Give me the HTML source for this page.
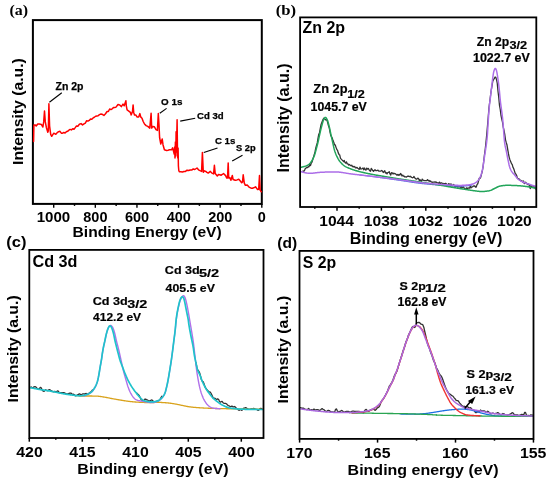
<!DOCTYPE html>
<html><head><meta charset="utf-8"><style>
html,body{margin:0;padding:0;background:#fff;width:550px;height:484px;overflow:hidden}
svg{display:block;will-change:transform;filter:blur(0.3px)}
text{font-weight:bold}
</style></head><body>
<svg width="550" height="484" viewBox="0 0 550 484">
<rect width="550" height="484" fill="#fff"/>
<rect x="32.90" y="20.10" width="228.90" height="183.80" fill="none" stroke="#000" stroke-width="2.0"/>
<line x1="261.80" y1="203.90" x2="261.80" y2="207.80" stroke="#000" stroke-width="1.4"/>
<line x1="240.99" y1="203.90" x2="240.99" y2="205.90" stroke="#000" stroke-width="1.4"/>
<line x1="220.18" y1="203.90" x2="220.18" y2="207.80" stroke="#000" stroke-width="1.4"/>
<line x1="199.37" y1="203.90" x2="199.37" y2="205.90" stroke="#000" stroke-width="1.4"/>
<line x1="178.56" y1="203.90" x2="178.56" y2="207.80" stroke="#000" stroke-width="1.4"/>
<line x1="157.75" y1="203.90" x2="157.75" y2="205.90" stroke="#000" stroke-width="1.4"/>
<line x1="136.95" y1="203.90" x2="136.95" y2="207.80" stroke="#000" stroke-width="1.4"/>
<line x1="116.14" y1="203.90" x2="116.14" y2="205.90" stroke="#000" stroke-width="1.4"/>
<line x1="95.33" y1="203.90" x2="95.33" y2="207.80" stroke="#000" stroke-width="1.4"/>
<line x1="74.52" y1="203.90" x2="74.52" y2="205.90" stroke="#000" stroke-width="1.4"/>
<line x1="53.71" y1="203.90" x2="53.71" y2="207.80" stroke="#000" stroke-width="1.4"/>
<text x="36.65" y="222.40" font-size="14.5" font-family="Liberation Sans, sans-serif" textLength="33.58" lengthAdjust="spacingAndGlyphs" fill="#000" >1000</text>
<text x="83.30" y="222.40" font-size="14.5" font-family="Liberation Sans, sans-serif" textLength="24.19" lengthAdjust="spacingAndGlyphs" fill="#000" >800</text>
<text x="124.88" y="222.40" font-size="14.5" font-family="Liberation Sans, sans-serif" textLength="24.19" lengthAdjust="spacingAndGlyphs" fill="#000" >600</text>
<text x="166.66" y="222.40" font-size="14.5" font-family="Liberation Sans, sans-serif" textLength="24.19" lengthAdjust="spacingAndGlyphs" fill="#000" >400</text>
<text x="208.13" y="222.40" font-size="14.5" font-family="Liberation Sans, sans-serif" textLength="24.19" lengthAdjust="spacingAndGlyphs" fill="#000" >200</text>
<text x="257.78" y="222.40" font-size="14.5" font-family="Liberation Sans, sans-serif" textLength="8.06" lengthAdjust="spacingAndGlyphs" fill="#000" >0</text>
<text x="72.55" y="236.80" font-size="14.8" font-family="Liberation Sans, sans-serif" textLength="149.13" lengthAdjust="spacingAndGlyphs" fill="#000" >Binding Energy (eV)</text>
<text x="0" y="0" transform="translate(23.30,164.96) rotate(-90)" font-size="15.5" font-family="Liberation Sans, sans-serif" textLength="106.75" lengthAdjust="spacingAndGlyphs">Intensity (a.u.)</text>
<text x="9.50" y="15.00" font-size="15" font-family="Liberation Serif, serif" textLength="18.60" lengthAdjust="spacingAndGlyphs" fill="#000" >(a)</text>
<path d="M33.60,141.50 L33.90,125.00 L35.05,124.90 L36.20,126.00 L37.75,124.01 L39.30,124.00 L41.40,124.50 L42.90,127.00 L43.70,121.90 L44.50,111.00 L45.30,121.90 L46.50,128.00 L47.80,132.20 L48.30,131.00 L48.90,103.80 L49.60,126.00 L50.70,134.30 L51.70,136.30 L53.80,133.20 L55.80,134.30 L56.90,132.96 L58.00,132.00 L60.00,131.30 L61.30,133.20 L62.55,133.17 L63.80,132.50 L65.07,132.95 L66.33,131.78 L67.60,131.30 L68.88,130.24 L70.15,129.41 L71.42,129.91 L72.70,128.70 L73.97,129.30 L75.25,127.65 L76.53,125.90 L77.80,126.20 L79.40,124.18 L81.00,123.60 L82.50,124.90 L84.00,123.80 L85.33,123.05 L86.67,120.70 L88.00,121.10 L89.27,120.40 L90.53,118.96 L91.80,119.20 L93.08,117.93 L94.35,117.23 L95.62,116.27 L96.90,116.00 L98.17,115.78 L99.43,114.69 L100.70,114.10 L102.30,114.31 L103.90,115.40 L105.50,113.76 L107.10,111.50 L108.37,111.49 L109.63,109.00 L110.90,109.60 L112.18,108.78 L113.45,107.61 L114.72,107.60 L116.00,107.10 L118.00,104.50 L119.70,104.90 L121.30,106.60 L123.00,104.10 L124.20,105.80 L125.90,100.80 L126.30,105.80 L127.10,109.90 L128.80,111.10 L130.40,112.40 L131.20,114.90 L132.50,111.50 L133.10,104.90 L133.70,112.40 L134.50,114.90 L135.75,114.93 L137.00,116.90 L138.70,116.90 L139.90,113.60 L140.70,116.90 L142.00,118.20 L143.20,121.50 L144.50,124.00 L146.10,125.60 L147.80,126.40 L149.80,128.10 L151.10,113.20 L151.70,128.10 L152.70,126.40 L154.40,126.80 L156.00,129.70 L157.40,130.40 L158.30,113.60 L159.00,124.50 L159.60,137.50 L160.80,144.00 L162.20,138.90 L163.00,144.70 L164.40,149.80 L166.60,150.50 L168.05,150.17 L169.50,149.80 L171.60,149.80 L172.60,147.90 L173.80,152.30 L174.20,154.00 L174.60,147.00 L175.00,158.00 L175.40,142.00 L175.80,156.00 L176.10,131.70 L176.40,152.00 L176.80,135.00 L177.10,119.80 L177.50,152.00 L177.80,158.00 L178.10,148.00 L178.40,166.00 L178.80,170.50 L179.30,171.70 L180.85,171.82 L182.40,172.00 L183.95,171.47 L185.50,171.40 L187.05,170.16 L188.60,170.50 L190.15,170.00 L191.70,170.10 L193.25,168.98 L194.80,169.50 L197.00,168.00 L198.50,169.80 L200.00,170.60 L201.60,171.40 L202.40,152.40 L203.30,172.30 L204.50,170.83 L205.70,171.40 L206.95,172.42 L208.20,173.10 L210.30,171.40 L211.90,173.10 L213.60,173.90 L214.40,165.20 L215.20,173.50 L217.30,176.00 L218.55,174.57 L219.80,174.80 L221.03,175.24 L222.27,174.47 L223.50,173.50 L225.60,175.60 L226.80,178.10 L227.50,178.00 L228.20,162.90 L228.70,178.10 L229.80,177.65 L230.90,180.20 L232.30,175.50 L233.10,179.50 L235.20,180.20 L237.00,179.90 L238.80,179.20 L240.30,181.00 L241.70,182.80 L242.50,182.00 L243.20,174.80 L244.30,183.10 L245.40,185.30 L247.20,185.00 L249.00,187.10 L251.10,188.20 L252.40,188.20 L253.70,187.80 L255.50,186.80 L257.60,189.60 L258.70,189.30 L259.50,175.50 L260.20,190.40 L261.30,191.80" fill="none" stroke="#ff0000" stroke-width="1.5" stroke-linejoin="round" stroke-linecap="round" />
<text x="55.59" y="90.00" font-size="10.3" font-family="Liberation Sans, sans-serif" textLength="27.94" lengthAdjust="spacingAndGlyphs" fill="#000" stroke="#000" stroke-width="0.25">Zn 2p</text>
<line x1="61.80" y1="92.70" x2="49.40" y2="102.30" stroke="#000" stroke-width="1.1"/>
<text x="161.10" y="104.50" font-size="9.8" font-family="Liberation Sans, sans-serif" textLength="21.31" lengthAdjust="spacingAndGlyphs" fill="#000" stroke="#000" stroke-width="0.25">O 1s</text>
<line x1="166.60" y1="108.40" x2="159.80" y2="113.20" stroke="#000" stroke-width="1.1"/>
<text x="197.11" y="119.10" font-size="9.7" font-family="Liberation Sans, sans-serif" textLength="26.62" lengthAdjust="spacingAndGlyphs" fill="#000" stroke="#000" stroke-width="0.25">Cd 3d</text>
<line x1="195.20" y1="118.20" x2="180.20" y2="121.10" stroke="#000" stroke-width="1.1"/>
<text x="214.90" y="143.80" font-size="9.6" font-family="Liberation Sans, sans-serif" textLength="20.39" lengthAdjust="spacingAndGlyphs" fill="#000" stroke="#000" stroke-width="0.25">C 1s</text>
<line x1="217.50" y1="148.00" x2="203.80" y2="152.40" stroke="#000" stroke-width="1.1"/>
<text x="236.03" y="151.40" font-size="9.2" font-family="Liberation Sans, sans-serif" textLength="19.55" lengthAdjust="spacingAndGlyphs" fill="#000" stroke="#000" stroke-width="0.25">S 2p</text>
<line x1="242.50" y1="155.30" x2="232.20" y2="161.10" stroke="#000" stroke-width="1.1"/>
<clipPath id="cb"><rect x="300.1" y="17.4" width="236.19999999999993" height="189.6"/></clipPath>
<path d="M303.00,171.03 L303.75,171.32 L304.50,170.55 L305.25,168.61 L306.00,168.15 L306.75,167.39 L307.50,167.68 L308.25,166.74 L309.00,166.76 L309.75,164.02 L310.50,165.57 L311.25,163.08 L312.00,162.06 L312.75,159.50 L313.50,157.07 L314.25,154.81 L315.00,151.93 L315.75,148.20 L316.50,145.32 L317.25,142.88 L318.00,138.35 L318.75,134.46 L319.50,132.63 L320.25,128.65 L321.00,124.80 L321.75,122.75 L322.50,120.83 L323.25,119.07 L324.00,118.02 L324.75,119.06 L325.50,119.93 L326.25,119.66 L327.00,120.40 L327.75,122.88 L328.50,125.74 L329.25,127.86 L330.00,131.83 L330.75,135.43 L331.50,136.76 L332.25,138.09 L333.00,140.60 L333.75,142.30 L334.50,144.79 L335.25,144.90 L336.00,147.37 L336.75,149.32 L337.50,150.27 L338.25,152.87 L339.00,154.40 L339.75,155.07 L340.50,158.34 L341.25,159.11 L342.00,159.88 L342.75,160.49 L343.50,161.61 L344.25,160.54 L345.00,162.60 L345.75,163.15 L346.50,161.87 L347.25,163.91 L348.00,163.88 L348.75,165.06 L349.50,164.53 L350.25,165.21 L351.00,165.82 L351.75,165.23 L352.50,166.63 L353.25,166.37 L354.00,167.06 L354.75,166.53 L355.50,167.96 L356.25,167.80 L357.00,167.41 L357.75,168.21 L358.50,168.85 L359.25,169.42 L360.00,167.05 L360.75,169.04 L361.50,168.86 L362.25,168.57 L363.00,168.01 L363.75,169.82 L364.50,168.03 L365.25,169.50 L366.00,170.15 L366.75,168.06 L367.50,169.12 L368.25,168.45 L369.00,169.70 L369.75,170.75 L370.50,171.22 L371.25,168.46 L372.00,169.47 L372.75,170.53 L373.50,171.29 L374.25,170.53 L375.00,169.76 L375.75,170.65 L376.50,170.53 L377.25,170.50 L378.00,170.21 L378.75,171.17 L379.50,171.22 L380.25,171.04 L381.00,171.07 L381.75,170.39 L382.50,171.12 L383.25,172.52 L384.00,171.60 L384.75,170.80 L385.50,173.03 L386.25,172.57 L387.00,173.90 L387.75,172.51 L388.50,172.27 L389.25,171.69 L390.00,173.92 L390.75,175.01 L391.50,172.62 L392.25,172.91 L393.00,174.00 L393.75,173.09 L394.50,173.66 L395.25,173.76 L396.00,174.32 L396.75,175.15 L397.50,174.50 L398.25,175.32 L399.00,174.47 L399.75,175.18 L400.50,173.48 L401.25,174.15 L402.00,175.98 L402.75,175.10 L403.50,176.13 L404.25,176.25 L405.00,176.99 L405.75,176.77 L406.50,177.08 L407.25,176.39 L408.00,176.11 L408.75,176.24 L409.50,176.59 L410.25,176.27 L411.00,176.87 L411.75,177.37 L412.50,177.79 L413.25,177.51 L414.00,176.48 L414.75,178.03 L415.50,178.42 L416.25,179.22 L417.00,179.00 L417.75,178.25 L418.50,178.34 L419.25,180.55 L420.00,179.77 L420.75,180.73 L421.50,181.11 L422.25,179.05 L423.00,180.11 L423.75,180.32 L424.50,180.55 L425.25,180.69 L426.00,180.58 L426.75,180.72 L427.50,179.61 L428.25,180.77 L429.00,180.48 L429.75,181.29 L430.50,180.99 L431.25,181.96 L432.00,182.26 L432.75,182.02 L433.50,182.18 L434.25,182.16 L435.00,181.90 L435.75,182.26 L436.50,182.16 L437.25,182.96 L438.00,182.83 L438.75,183.40 L439.50,182.11 L440.25,183.91 L441.00,182.81 L441.75,182.97 L442.50,183.51 L443.25,183.37 L444.00,184.14 L444.75,183.62 L445.50,183.38 L446.25,183.67 L447.00,185.42 L447.75,184.59 L448.50,183.81 L449.25,184.82 L450.00,183.77 L450.75,186.41 L451.50,184.05 L452.25,185.68 L453.00,185.86 L453.75,184.50 L454.50,185.95 L455.25,186.61 L456.00,186.35 L456.75,186.34 L457.50,187.00 L458.25,186.56 L459.00,186.84 L459.75,186.65 L460.50,187.39 L461.25,186.39 L462.00,187.88 L462.75,187.09 L463.50,186.82 L464.25,188.09 L465.00,189.26 L465.75,188.87 L466.50,187.87 L467.25,188.82 L468.00,187.94 L468.75,188.12 L469.50,188.17 L470.25,186.23 L471.00,187.96 L471.75,186.87 L472.50,186.95 L473.25,186.16 L474.00,185.86 L474.75,186.00 L475.50,187.01 L476.25,187.12 L477.00,184.63 L477.75,183.77 L478.50,180.96 L479.25,178.21 L480.00,178.44 L480.75,177.14 L481.50,174.21 L482.25,171.26 L483.00,167.23 L483.75,160.85 L484.50,154.50 L485.25,149.02 L486.00,142.08 L486.75,134.29 L487.50,125.85 L488.25,116.84 L489.00,107.63 L489.75,101.78 L490.50,95.77 L491.25,90.08 L492.00,85.97 L492.75,81.28 L493.50,79.68 L494.25,78.72 L495.00,77.12 L495.75,77.06 L496.50,79.67 L497.25,83.15 L498.00,91.29 L498.75,97.44 L499.50,105.45 L500.25,109.33 L501.00,115.48 L501.75,119.19 L502.50,122.08 L503.25,127.20 L504.00,130.49 L504.75,134.41 L505.50,139.79 L506.25,142.66 L507.00,145.04 L507.75,149.54 L508.50,153.93 L509.25,157.59 L510.00,159.92 L510.75,161.76 L511.50,163.63 L512.25,164.61 L513.00,167.38 L513.75,168.73 L514.50,171.14 L515.25,173.55 L516.00,174.25 L516.75,175.86 L517.50,178.59 L518.25,178.60 L519.00,178.91 L519.75,180.05 L520.50,180.03 L521.25,181.12 L522.00,180.88 L522.75,182.02 L523.50,181.04 L524.25,183.63 L525.00,182.64 L525.75,182.21 L526.50,183.58 L527.25,183.84 L528.00,184.61 L528.75,184.05 L529.50,185.64 L530.25,188.50 L531.00,185.27 L531.75,186.92 L532.50,186.85 L533.25,187.62 L534.00,186.48 L534.75,187.31 L535.50,188.84" fill="none" stroke="#333333" stroke-width="1.3" stroke-linejoin="round" stroke-linecap="round" clip-path="url(#cb)"/>
<path d="M360.00,174.98 L360.50,175.03 L361.00,175.09 L361.50,175.15 L362.00,175.21 L362.50,175.26 L363.00,175.32 L363.50,175.38 L364.00,175.43 L364.50,175.49 L365.00,175.55 L365.50,175.61 L366.00,175.66 L366.50,175.72 L367.00,175.78 L367.50,175.84 L368.00,175.89 L368.50,175.95 L369.00,176.01 L369.50,176.07 L370.00,176.13 L370.50,176.20 L371.00,176.27 L371.50,176.33 L372.00,176.40 L372.50,176.47 L373.00,176.54 L373.50,176.61 L374.00,176.68 L374.50,176.75 L375.00,176.82 L375.50,176.89 L376.00,176.96 L376.50,177.03 L377.00,177.10 L377.50,177.17 L378.00,177.24 L378.50,177.31 L379.00,177.38 L379.50,177.45 L380.00,177.52 L380.50,177.60 L381.00,177.67 L381.50,177.74 L382.00,177.81 L382.50,177.88 L383.00,177.95 L383.50,178.02 L384.00,178.09 L384.50,178.16 L385.00,178.23 L385.50,178.30 L386.00,178.37 L386.50,178.45 L387.00,178.52 L387.50,178.59 L388.00,178.66 L388.50,178.73 L389.00,178.80 L389.50,178.87 L390.00,178.95 L390.50,179.02 L391.00,179.09 L391.50,179.16 L392.00,179.23 L392.50,179.31 L393.00,179.38 L393.50,179.45 L394.00,179.52 L394.50,179.60 L395.00,179.67 L395.50,179.74 L396.00,179.81 L396.50,179.89 L397.00,179.96 L397.50,180.03 L398.00,180.11 L398.50,180.18 L399.00,180.25 L399.50,180.33 L400.00,180.40 L400.50,180.47 L401.00,180.55 L401.50,180.62 L402.00,180.70 L402.50,180.78 L403.00,180.86 L403.50,180.93 L404.00,181.01 L404.50,181.09 L405.00,181.17 L405.50,181.25 L406.00,181.33 L406.50,181.42 L407.00,181.50 L407.50,181.58 L408.00,181.66 L408.50,181.74 L409.00,181.82 L409.50,181.91 L410.00,181.99 L410.50,182.06 L411.00,182.13 L411.50,182.20 L412.00,182.28 L412.50,182.35 L413.00,182.42 L413.50,182.49 L414.00,182.56 L414.50,182.63 L415.00,182.70 L415.50,182.77 L416.00,182.83 L416.50,182.90 L417.00,182.97 L417.50,183.03 L418.00,183.10 L418.50,183.16 L419.00,183.23 L419.50,183.29 L420.00,183.35 L420.50,183.41 L421.00,183.47 L421.50,183.53 L422.00,183.59 L422.50,183.64 L423.00,183.70 L423.50,183.75 L424.00,183.80 L424.50,183.85 L425.00,183.90 L425.50,183.95 L426.00,184.00 L426.50,184.04 L427.00,184.09 L427.50,184.14 L428.00,184.18 L428.50,184.23 L429.00,184.28 L429.50,184.32 L430.00,184.37 L430.50,184.41 L431.00,184.46 L431.50,184.50 L432.00,184.54 L432.50,184.59 L433.00,184.63 L433.50,184.67 L434.00,184.71 L434.50,184.75 L435.00,184.80 L435.50,184.84 L436.00,184.88 L436.50,184.92 L437.00,184.96 L437.50,184.99 L438.00,185.03 L438.50,185.07 L439.00,185.11 L439.50,185.15 L440.00,185.18 L440.50,185.22 L441.00,185.25 L441.50,185.29 L442.00,185.32 L442.50,185.36 L443.00,185.39 L443.50,185.42 L444.00,185.46 L444.50,185.49 L445.00,185.52 L445.50,185.55 L446.00,185.58 L446.50,185.61 L447.00,185.64 L447.50,185.67 L448.00,185.69 L448.50,185.72 L449.00,185.75 L449.50,185.77 L450.00,185.80 L450.50,185.83 L451.00,185.85 L451.50,185.88 L452.00,185.91 L452.50,185.93 L453.00,185.96 L453.50,185.99 L454.00,186.01 L454.50,186.04 L455.00,186.06 L455.50,186.09 L456.00,186.11 L456.50,186.13 L457.00,186.15 L457.50,186.16 L458.00,186.17 L458.50,186.19 L459.00,186.19 L459.50,186.20 L460.00,186.20 L460.50,186.20 L461.00,186.19 L461.50,186.18 L462.00,186.16 L462.50,186.14 L463.00,186.12 L463.50,186.09 L464.00,186.06 L464.50,186.02 L465.00,185.99 L465.50,185.95 L466.00,185.91 L466.50,185.87 L467.00,185.83 L467.50,185.78 L468.00,185.73 L468.50,185.67 L469.00,185.60 L469.50,185.53 L470.00,185.44 L470.50,185.35 L471.00,185.24 L471.50,185.13 L472.00,185.01" fill="none" stroke="#5a72e0" stroke-width="1.1" stroke-linejoin="round" stroke-linecap="round" clip-path="url(#cb)"/>
<path d="M300.00,167.30 L300.50,167.27 L301.00,167.22 L301.50,167.15 L302.00,167.06 L302.50,166.96 L303.00,166.84 L303.50,166.72 L304.00,166.58 L304.50,166.44 L305.00,166.30 L305.50,166.14 L306.00,165.96 L306.50,165.75 L307.00,165.52 L307.50,165.25 L308.00,164.96 L308.50,164.64 L309.00,164.27 L309.50,163.81 L310.00,163.26 L310.50,162.65 L311.00,161.97 L311.50,161.25 L312.00,160.49 L312.50,159.66 L313.00,158.73 L313.50,157.70 L314.00,156.55 L314.50,155.25 L315.00,153.65 L315.50,151.84 L316.00,149.97 L316.50,148.12 L317.00,146.23 L317.50,144.26 L318.00,142.20 L318.50,139.99 L319.00,137.64 L319.50,135.29 L320.00,133.07 L320.50,130.91 L321.00,128.82 L321.50,126.84 L322.00,124.99 L322.50,123.13 L323.00,121.44 L323.50,120.11 L324.00,119.11 L324.50,118.21 L325.00,117.58 L325.50,117.41 L326.00,117.74 L326.50,118.43 L327.00,119.33 L327.50,120.34 L328.00,121.83 L328.50,123.70 L329.00,125.70 L329.50,127.77 L330.00,130.06 L330.50,132.45 L331.00,134.80 L331.50,137.09 L332.00,139.38 L332.50,141.64 L333.00,143.84 L333.50,146.08 L334.00,148.28 L334.50,150.23 L335.00,151.82 L335.50,153.23 L336.00,154.50 L336.50,155.65 L337.00,156.70 L337.50,157.67 L338.00,158.59 L338.50,159.44 L339.00,160.24 L339.50,160.97 L340.00,161.63 L340.50,162.23 L341.00,162.80 L341.50,163.34 L342.00,163.86 L342.50,164.34 L343.00,164.80 L343.50,165.22 L344.00,165.62 L344.50,165.98 L345.00,166.30 L345.50,166.60 L346.00,166.87 L346.50,167.12 L347.00,167.36 L347.50,167.59 L348.00,167.80 L348.50,168.01 L349.00,168.21 L349.50,168.40 L350.00,168.60 L350.50,168.80 L351.00,168.99 L351.50,169.17 L352.00,169.36 L352.50,169.54 L353.00,169.71 L353.50,169.88 L354.00,170.05 L354.50,170.21 L355.00,170.36 L355.50,170.51 L356.00,170.66 L356.50,170.80 L357.00,170.94 L357.50,171.08 L358.00,171.22 L358.50,171.35 L359.00,171.48 L359.50,171.61 L360.00,171.74 L360.50,171.86 L361.00,171.99 L361.50,172.11 L362.00,172.23 L362.50,172.35 L363.00,172.46 L363.50,172.58 L364.00,172.69 L364.50,172.81 L365.00,172.92 L365.50,173.03 L366.00,173.13 L366.50,173.24 L367.00,173.35 L367.50,173.45 L368.00,173.56 L368.50,173.66 L369.00,173.76 L369.50,173.86 L370.00,173.96 L370.50,174.06 L371.00,174.16 L371.50,174.25 L372.00,174.35 L372.50,174.44 L373.00,174.53 L373.50,174.63 L374.00,174.72 L374.50,174.81 L375.00,174.89 L375.50,174.98 L376.00,175.07 L376.50,175.16 L377.00,175.24 L377.50,175.33 L378.00,175.42 L378.50,175.50 L379.00,175.59 L379.50,175.67 L380.00,175.76 L380.50,175.84 L381.00,175.93 L381.50,176.01 L382.00,176.10 L382.50,176.18 L383.00,176.27 L383.50,176.35 L384.00,176.44 L384.50,176.52 L385.00,176.61 L385.50,176.69 L386.00,176.78 L386.50,176.86 L387.00,176.94 L387.50,177.03 L388.00,177.11 L388.50,177.19 L389.00,177.27 L389.50,177.35 L390.00,177.44 L390.50,177.52 L391.00,177.60 L391.50,177.68 L392.00,177.76 L392.50,177.84 L393.00,177.92 L393.50,178.00 L394.00,178.08 L394.50,178.16 L395.00,178.24 L395.50,178.32 L396.00,178.40 L396.50,178.48 L397.00,178.56 L397.50,178.63 L398.00,178.71 L398.50,178.79 L399.00,178.87 L399.50,178.95 L400.00,179.02 L400.50,179.10 L401.00,179.18 L401.50,179.25 L402.00,179.33 L402.50,179.41 L403.00,179.48 L403.50,179.56 L404.00,179.63 L404.50,179.70 L405.00,179.78 L405.50,179.85 L406.00,179.93 L406.50,180.00 L407.00,180.07 L407.50,180.15 L408.00,180.22 L408.50,180.29 L409.00,180.37 L409.50,180.44 L410.00,180.51 L410.50,180.59 L411.00,180.66 L411.50,180.73 L412.00,180.80 L412.50,180.88 L413.00,180.95 L413.50,181.02 L414.00,181.10 L414.50,181.17 L415.00,181.25 L415.50,181.32 L416.00,181.39 L416.50,181.47 L417.00,181.54 L417.50,181.62 L418.00,181.69 L418.50,181.77 L419.00,181.85 L419.50,181.92 L420.00,182.00 L420.50,182.08 L421.00,182.15 L421.50,182.23 L422.00,182.31 L422.50,182.39 L423.00,182.47 L423.50,182.54 L424.00,182.62 L424.50,182.70 L425.00,182.78 L425.50,182.86 L426.00,182.94 L426.50,183.02 L427.00,183.10 L427.50,183.17 L428.00,183.25 L428.50,183.33 L429.00,183.41 L429.50,183.49 L430.00,183.57 L430.50,183.65 L431.00,183.73 L431.50,183.81 L432.00,183.90 L432.50,183.98 L433.00,184.06 L433.50,184.14 L434.00,184.22 L434.50,184.30 L435.00,184.38 L435.50,184.46 L436.00,184.54 L436.50,184.63 L437.00,184.71 L437.50,184.79 L438.00,184.87 L438.50,184.95 L439.00,185.04 L439.50,185.12 L440.00,185.20 L440.50,185.28 L441.00,185.37 L441.50,185.45 L442.00,185.53 L442.50,185.62 L443.00,185.70 L443.50,185.79 L444.00,185.87 L444.50,185.96 L445.00,186.05 L445.50,186.13 L446.00,186.22 L446.50,186.31 L447.00,186.39 L447.50,186.48 L448.00,186.57 L448.50,186.65 L449.00,186.74 L449.50,186.83 L450.00,186.92 L450.50,187.00 L451.00,187.09 L451.50,187.18 L452.00,187.26 L452.50,187.35 L453.00,187.44 L453.50,187.52 L454.00,187.61 L454.50,187.69 L455.00,187.78 L455.50,187.86 L456.00,187.95 L456.50,188.03 L457.00,188.11 L457.50,188.20 L458.00,188.28 L458.50,188.36 L459.00,188.44 L459.50,188.52 L460.00,188.60 L460.50,188.68 L461.00,188.76 L461.50,188.83 L462.00,188.91 L462.50,188.98 L463.00,189.06 L463.50,189.13 L464.00,189.21 L464.50,189.28 L465.00,189.36 L465.50,189.43 L466.00,189.50 L466.50,189.58 L467.00,189.65 L467.50,189.73 L468.00,189.81 L468.50,189.89 L469.00,189.97 L469.50,190.05 L470.00,190.13 L470.50,190.22 L471.00,190.30 L471.50,190.38 L472.00,190.45 L472.50,190.53 L473.00,190.60 L473.50,190.67 L474.00,190.74 L474.50,190.80 L475.00,190.86 L475.50,190.92 L476.00,190.99 L476.50,191.05 L477.00,191.12 L477.50,191.18 L478.00,191.24 L478.50,191.30 L479.00,191.35 L479.50,191.39 L480.00,191.43 L480.50,191.46 L481.00,191.49 L481.50,191.50 L482.00,191.50 L482.50,191.49 L483.00,191.48 L483.50,191.45 L484.00,191.42 L484.50,191.38 L485.00,191.34 L485.50,191.29 L486.00,191.24 L486.50,191.18 L487.00,191.11 L487.50,191.04 L488.00,190.97 L488.50,190.89 L489.00,190.82 L489.50,190.72 L490.00,190.59 L490.50,190.41 L491.00,190.21 L491.50,189.99 L492.00,189.75 L492.50,189.49 L493.00,189.23 L493.50,188.97 L494.00,188.72 L494.50,188.48 L495.00,188.26 L495.50,188.03 L496.00,187.78 L496.50,187.52 L497.00,187.27 L497.50,187.02 L498.00,186.78 L498.50,186.56 L499.00,186.37 L499.50,186.21 L500.00,186.10 L500.50,186.01 L501.00,185.92 L501.50,185.84 L502.00,185.76 L502.50,185.68 L503.00,185.61 L503.50,185.55 L504.00,185.49 L504.50,185.44 L505.00,185.39 L505.50,185.36 L506.00,185.33 L506.50,185.31 L507.00,185.30 L507.50,185.30 L508.00,185.30 L508.50,185.31 L509.00,185.31 L509.50,185.32 L510.00,185.33 L510.50,185.35 L511.00,185.36 L511.50,185.38 L512.00,185.39 L512.50,185.41 L513.00,185.43 L513.50,185.45 L514.00,185.47 L514.50,185.50 L515.00,185.52 L515.50,185.55 L516.00,185.57 L516.50,185.60 L517.00,185.62 L517.50,185.65 L518.00,185.68 L518.50,185.71 L519.00,185.74 L519.50,185.77 L520.00,185.80 L520.50,185.84 L521.00,185.89 L521.50,185.93 L522.00,185.98 L522.50,186.03 L523.00,186.09 L523.50,186.14 L524.00,186.20 L524.50,186.27 L525.00,186.33 L525.50,186.40 L526.00,186.47 L526.50,186.54 L527.00,186.61 L527.50,186.69 L528.00,186.77 L528.50,186.85 L529.00,186.94 L529.50,187.02 L530.00,187.11 L530.50,187.20 L531.00,187.29 L531.50,187.39 L532.00,187.48 L532.50,187.58 L533.00,187.68 L533.50,187.78 L534.00,187.88 L534.50,187.98 L535.00,188.09 L535.50,188.19 L536.00,188.30" fill="none" stroke="#22a55a" stroke-width="1.5" stroke-linejoin="round" stroke-linecap="round" clip-path="url(#cb)"/>
<path d="M300.00,171.30 L300.50,171.47 L301.00,171.63 L301.50,171.79 L302.00,171.94 L302.50,172.08 L303.00,172.22 L303.50,172.35 L304.00,172.48 L304.50,172.59 L305.00,172.70 L305.50,172.81 L306.00,172.90 L306.50,172.98 L307.00,173.06 L307.50,173.12 L308.00,173.18 L308.50,173.23 L309.00,173.26 L309.50,173.29 L310.00,173.30 L310.50,173.30 L311.00,173.29 L311.50,173.27 L312.00,173.24 L312.50,173.20 L313.00,173.16 L313.50,173.10 L314.00,173.05 L314.50,172.99 L315.00,172.92 L315.50,172.86 L316.00,172.79 L316.50,172.72 L317.00,172.66 L317.50,172.59 L318.00,172.53 L318.50,172.48 L319.00,172.42 L319.50,172.38 L320.00,172.34 L320.50,172.31 L321.00,172.29 L321.50,172.26 L322.00,172.24 L322.50,172.22 L323.00,172.20 L323.50,172.18 L324.00,172.16 L324.50,172.14 L325.00,172.12 L325.50,172.10 L326.00,172.08 L326.50,172.07 L327.00,172.05 L327.50,172.03 L328.00,172.02 L328.50,172.00 L329.00,171.99 L329.50,171.98 L330.00,171.96 L330.50,171.95 L331.00,171.94 L331.50,171.93 L332.00,171.92 L332.50,171.92 L333.00,171.91 L333.50,171.91 L334.00,171.90 L334.50,171.90 L335.00,171.90 L335.50,171.90 L336.00,171.91 L336.50,171.93 L337.00,171.95 L337.50,171.98 L338.00,172.02 L338.50,172.06 L339.00,172.11 L339.50,172.16 L340.00,172.22 L340.50,172.28 L341.00,172.34 L341.50,172.41 L342.00,172.48 L342.50,172.56 L343.00,172.63 L343.50,172.71 L344.00,172.79 L344.50,172.88 L345.00,172.96 L345.50,173.04 L346.00,173.13 L346.50,173.21 L347.00,173.30 L347.50,173.38 L348.00,173.46 L348.50,173.54 L349.00,173.62 L349.50,173.70 L350.00,173.77 L350.50,173.84 L351.00,173.91 L351.50,173.98 L352.00,174.04 L352.50,174.10 L353.00,174.16 L353.50,174.22 L354.00,174.28 L354.50,174.34 L355.00,174.39 L355.50,174.45 L356.00,174.51 L356.50,174.57 L357.00,174.63 L357.50,174.69 L358.00,174.75 L358.50,174.80 L359.00,174.86 L359.50,174.92 L360.00,174.98 L360.50,175.03 L361.00,175.09 L361.50,175.15 L362.00,175.21 L362.50,175.26 L363.00,175.32 L363.50,175.38 L364.00,175.43 L364.50,175.49 L365.00,175.55 L365.50,175.61 L366.00,175.66 L366.50,175.72 L367.00,175.78 L367.50,175.84 L368.00,175.89 L368.50,175.95 L369.00,176.01 L369.50,176.07 L370.00,176.13 L370.50,176.19 L371.00,176.25 L371.50,176.30 L372.00,176.36 L372.50,176.42 L373.00,176.48 L373.50,176.54 L374.00,176.60 L374.50,176.66 L375.00,176.72 L375.50,176.78 L376.00,176.84 L376.50,176.90 L377.00,176.96 L377.50,177.02 L378.00,177.08 L378.50,177.14 L379.00,177.20 L379.50,177.26 L380.00,177.32 L380.50,177.39 L381.00,177.45 L381.50,177.51 L382.00,177.57 L382.50,177.63 L383.00,177.69 L383.50,177.75 L384.00,177.81 L384.50,177.87 L385.00,177.93 L385.50,177.99 L386.00,178.05 L386.50,178.12 L387.00,178.18 L387.50,178.24 L388.00,178.30 L388.50,178.36 L389.00,178.42 L389.50,178.48 L390.00,178.55 L390.50,178.61 L391.00,178.67 L391.50,178.73 L392.00,178.79 L392.50,178.86 L393.00,178.92 L393.50,178.98 L394.00,179.04 L394.50,179.11 L395.00,179.17 L395.50,179.23 L396.00,179.29 L396.50,179.36 L397.00,179.42 L397.50,179.48 L398.00,179.55 L398.50,179.61 L399.00,179.67 L399.50,179.74 L400.00,179.80 L400.50,179.86 L401.00,179.93 L401.50,179.99 L402.00,180.06 L402.50,180.13 L403.00,180.20 L403.50,180.26 L404.00,180.33 L404.50,180.40 L405.00,180.47 L405.50,180.54 L406.00,180.61 L406.50,180.69 L407.00,180.76 L407.50,180.83 L408.00,180.90 L408.50,180.97 L409.00,181.04 L409.50,181.12 L410.00,181.19 L410.50,181.26 L411.00,181.33 L411.50,181.40 L412.00,181.48 L412.50,181.55 L413.00,181.62 L413.50,181.69 L414.00,181.76 L414.50,181.83 L415.00,181.90 L415.50,181.97 L416.00,182.03 L416.50,182.10 L417.00,182.17 L417.50,182.23 L418.00,182.30 L418.50,182.36 L419.00,182.43 L419.50,182.49 L420.00,182.55 L420.50,182.61 L421.00,182.67 L421.50,182.73 L422.00,182.79 L422.50,182.84 L423.00,182.90 L423.50,182.95 L424.00,183.00 L424.50,183.05 L425.00,183.10 L425.50,183.15 L426.00,183.20 L426.50,183.24 L427.00,183.29 L427.50,183.34 L428.00,183.38 L428.50,183.43 L429.00,183.48 L429.50,183.52 L430.00,183.57 L430.50,183.61 L431.00,183.66 L431.50,183.70 L432.00,183.74 L432.50,183.79 L433.00,183.83 L433.50,183.87 L434.00,183.91 L434.50,183.95 L435.00,184.00 L435.50,184.04 L436.00,184.08 L436.50,184.12 L437.00,184.16 L437.50,184.19 L438.00,184.23 L438.50,184.27 L439.00,184.31 L439.50,184.35 L440.00,184.38 L440.50,184.42 L441.00,184.45 L441.50,184.49 L442.00,184.52 L442.50,184.56 L443.00,184.59 L443.50,184.62 L444.00,184.66 L444.50,184.69 L445.00,184.72 L445.50,184.75 L446.00,184.78 L446.50,184.81 L447.00,184.84 L447.50,184.87 L448.00,184.89 L448.50,184.92 L449.00,184.95 L449.50,184.97 L450.00,185.00 L450.50,185.03 L451.00,185.05 L451.50,185.08 L452.00,185.11 L452.50,185.13 L453.00,185.16 L453.50,185.19 L454.00,185.21 L454.50,185.24 L455.00,185.26 L455.50,185.29 L456.00,185.31 L456.50,185.33 L457.00,185.35 L457.50,185.36 L458.00,185.37 L458.50,185.39 L459.00,185.39 L459.50,185.40 L460.00,185.40 L460.50,185.40 L461.00,185.39 L461.50,185.38 L462.00,185.36 L462.50,185.34 L463.00,185.32 L463.50,185.29 L464.00,185.26 L464.50,185.22 L465.00,185.19 L465.50,185.15 L466.00,185.11 L466.50,185.07 L467.00,185.03 L467.50,184.98 L468.00,184.93 L468.50,184.87 L469.00,184.80 L469.50,184.73 L470.00,184.64 L470.50,184.55 L471.00,184.44 L471.50,184.33 L472.00,184.21 L472.50,184.07 L473.00,183.93 L473.50,183.76 L474.00,183.55 L474.50,183.30 L475.00,183.00 L475.50,182.66 L476.00,182.29 L476.50,181.89 L477.00,181.46 L477.50,181.00 L478.00,180.48 L478.50,179.87 L479.00,179.15 L479.50,178.33 L480.00,177.41 L480.50,176.38 L481.00,175.07 L481.50,173.46 L482.00,171.60 L482.50,169.47 L483.00,166.81 L483.50,163.61 L484.00,159.80 L484.50,156.53 L485.00,153.43 L485.50,150.19 L486.00,146.93 L486.50,143.30 L487.00,139.17 L487.50,133.64 L488.00,125.00 L488.50,117.13 L489.00,110.23 L489.50,104.50 L490.00,100.69 L490.50,96.84 L491.00,92.41 L491.50,88.05 L492.00,83.86 L492.50,79.94 L493.00,76.10 L493.50,72.89 L494.00,70.75 L494.50,69.39 L495.00,68.50 L495.50,68.39 L496.00,69.17 L496.50,70.56 L497.00,72.90 L497.50,75.83 L498.00,79.26 L498.50,82.96 L499.00,87.11 L499.50,91.85 L500.00,97.22 L500.50,102.37 L501.00,106.15 L501.50,109.73 L502.00,113.31 L502.50,117.50 L503.00,122.66 L503.50,129.23 L504.00,136.20 L504.50,141.68 L505.00,145.16 L505.50,147.59 L506.00,149.68 L506.50,152.01 L507.00,154.65 L507.50,157.32 L508.00,159.80 L508.50,162.16 L509.00,164.47 L509.50,166.52 L510.00,168.10 L510.50,169.27 L511.00,170.26 L511.50,171.11 L512.00,171.87 L512.50,172.58 L513.00,173.21 L513.50,173.78 L514.00,174.32 L514.50,174.87 L515.00,175.46 L515.50,176.09 L516.00,176.74 L516.50,177.38 L517.00,177.99 L517.50,178.53 L518.00,179.00 L518.50,179.40 L519.00,179.78 L519.50,180.12 L520.00,180.45 L520.50,180.75 L521.00,181.03 L521.50,181.30 L522.00,181.55 L522.50,181.79 L523.00,182.02 L523.50,182.24 L524.00,182.45 L524.50,182.65 L525.00,182.84 L525.50,183.03 L526.00,183.21 L526.50,183.38 L527.00,183.56 L527.50,183.73 L528.00,183.90 L528.50,184.06 L529.00,184.23 L529.50,184.40 L530.00,184.57 L530.50,184.73 L531.00,184.90 L531.50,185.06 L532.00,185.22 L532.50,185.37 L533.00,185.53 L533.50,185.68 L534.00,185.83 L534.50,185.98 L535.00,186.12 L535.50,186.26 L536.00,186.40" fill="none" stroke="#ac6ee8" stroke-width="1.5" stroke-linejoin="round" stroke-linecap="round" clip-path="url(#cb)"/>
<rect x="300.10" y="17.40" width="236.20" height="189.60" fill="none" stroke="#000" stroke-width="1.8"/>
<line x1="314.80" y1="207.00" x2="314.80" y2="208.80" stroke="#000" stroke-width="1.5"/>
<line x1="337.00" y1="207.00" x2="337.00" y2="210.70" stroke="#000" stroke-width="1.5"/>
<line x1="359.20" y1="207.00" x2="359.20" y2="208.80" stroke="#000" stroke-width="1.5"/>
<line x1="381.40" y1="207.00" x2="381.40" y2="210.70" stroke="#000" stroke-width="1.5"/>
<line x1="403.60" y1="207.00" x2="403.60" y2="208.80" stroke="#000" stroke-width="1.5"/>
<line x1="425.80" y1="207.00" x2="425.80" y2="210.70" stroke="#000" stroke-width="1.5"/>
<line x1="448.00" y1="207.00" x2="448.00" y2="208.80" stroke="#000" stroke-width="1.5"/>
<line x1="470.20" y1="207.00" x2="470.20" y2="210.70" stroke="#000" stroke-width="1.5"/>
<line x1="492.40" y1="207.00" x2="492.40" y2="208.80" stroke="#000" stroke-width="1.5"/>
<line x1="514.60" y1="207.00" x2="514.60" y2="210.70" stroke="#000" stroke-width="1.5"/>
<text x="319.22" y="225.90" font-size="15.4" font-family="Liberation Sans, sans-serif" textLength="34.67" lengthAdjust="spacingAndGlyphs" fill="#000" >1044</text>
<text x="363.82" y="225.90" font-size="15.4" font-family="Liberation Sans, sans-serif" textLength="34.68" lengthAdjust="spacingAndGlyphs" fill="#000" >1038</text>
<text x="408.29" y="225.90" font-size="15.4" font-family="Liberation Sans, sans-serif" textLength="34.68" lengthAdjust="spacingAndGlyphs" fill="#000" >1032</text>
<text x="452.66" y="225.90" font-size="15.4" font-family="Liberation Sans, sans-serif" textLength="34.68" lengthAdjust="spacingAndGlyphs" fill="#000" >1026</text>
<text x="497.09" y="225.90" font-size="15.4" font-family="Liberation Sans, sans-serif" textLength="34.68" lengthAdjust="spacingAndGlyphs" fill="#000" >1020</text>
<text x="349.72" y="244.10" font-size="16" font-family="Liberation Sans, sans-serif" textLength="152.70" lengthAdjust="spacingAndGlyphs" fill="#000" >Binding energy (eV)</text>
<text x="0" y="0" transform="translate(288.70,172.58) rotate(-90)" font-size="16" font-family="Liberation Sans, sans-serif" textLength="109.29" lengthAdjust="spacingAndGlyphs">Intensity (a.u.)</text>
<text x="275.77" y="14.80" font-size="15.3" font-family="Liberation Serif, serif" textLength="20.37" lengthAdjust="spacingAndGlyphs" fill="#000" >(b)</text>
<text x="302.52" y="32.80" font-size="16" font-family="Liberation Sans, sans-serif" textLength="42.63" lengthAdjust="spacingAndGlyphs" fill="#000" >Zn 2p</text>
<text x="476.73" y="46.20" font-size="12.5" font-family="Liberation Sans, sans-serif" textLength="32.46" lengthAdjust="spacingAndGlyphs" fill="#000" stroke="#000" stroke-width="0.2">Zn 2p</text>
<text x="509.51" y="48.60" font-size="11" font-family="Liberation Sans, sans-serif" textLength="17.70" lengthAdjust="spacingAndGlyphs" fill="#000" stroke="#000" stroke-width="0.2">3/2</text>
<text x="473.01" y="62.30" font-size="12.2" font-family="Liberation Sans, sans-serif" textLength="56.87" lengthAdjust="spacingAndGlyphs" fill="#000" stroke="#000" stroke-width="0.2">1022.7 eV</text>
<text x="313.32" y="92.70" font-size="12.2" font-family="Liberation Sans, sans-serif" textLength="34.20" lengthAdjust="spacingAndGlyphs" fill="#000" stroke="#000" stroke-width="0.2">Zn 2p</text>
<text x="347.21" y="97.60" font-size="11" font-family="Liberation Sans, sans-serif" textLength="17.50" lengthAdjust="spacingAndGlyphs" fill="#000" stroke="#000" stroke-width="0.2">1/2</text>
<text x="310.62" y="110.50" font-size="12.0" font-family="Liberation Sans, sans-serif" textLength="56.16" lengthAdjust="spacingAndGlyphs" fill="#000" stroke="#000" stroke-width="0.2">1045.7 eV</text>
<clipPath id="cc"><rect x="29.3" y="249.9" width="234.2" height="188.1"/></clipPath>
<path d="M29.50,387.45 L30.40,387.43 L31.30,386.98 L32.20,387.77 L33.10,387.70 L34.00,386.83 L34.90,386.67 L35.80,386.93 L36.70,387.90 L37.60,388.93 L38.50,389.28 L39.40,388.65 L40.30,387.37 L41.20,387.85 L42.10,389.85 L43.00,391.00 L43.90,391.41 L44.80,390.60 L45.70,389.73 L46.60,390.42 L47.50,390.75 L48.40,390.08 L49.30,389.69 L50.20,389.99 L51.10,390.65 L52.00,391.18 L52.90,391.66 L53.80,391.77 L54.70,391.31 L55.60,391.55 L56.50,391.72 L57.40,390.94 L58.30,391.20 L59.20,392.53 L60.10,392.89 L61.00,392.65 L61.90,392.63 L62.80,392.58 L63.70,392.72 L64.60,392.88 L65.50,393.52 L66.40,394.01 L67.30,393.94 L68.20,393.81 L69.10,393.36 L70.00,393.03 L70.90,393.11 L71.80,393.75 L72.70,394.30 L73.60,394.26 L74.50,394.74 L75.40,395.87 L76.30,395.69 L77.20,394.89 L78.10,394.73 L79.00,394.01 L79.90,393.92 L80.80,394.67 L81.70,394.58 L82.60,393.93 L83.50,393.90 L84.40,394.08 L85.30,393.60 L86.20,393.51 L87.10,394.13 L88.00,394.08 L88.90,393.23 L89.80,392.58 L90.70,392.00 L91.60,391.14 L92.50,389.95" fill="none" stroke="#333333" stroke-width="1.3" stroke-linejoin="round" stroke-linecap="round" clip-path="url(#cc)"/>
<path d="M136.60,392.89 L137.50,394.07 L138.40,394.64 L139.30,395.77 L140.20,397.81 L141.10,399.57 L142.00,400.29 L142.90,400.83 L143.80,400.61 L144.70,399.25 L145.60,399.07 L146.50,399.79 L147.40,399.99 L148.30,400.47 L149.20,400.88 L150.10,400.66 L151.00,400.25 L151.90,399.84 L152.80,400.75 L153.70,401.97 L154.60,401.68 L155.50,401.58 L156.40,401.49 L157.30,400.93 L158.20,400.77 L159.10,400.52 L160.00,399.63 L160.90,397.91 L161.80,396.25" fill="none" stroke="#333333" stroke-width="1.3" stroke-linejoin="round" stroke-linecap="round" clip-path="url(#cc)"/>
<path d="M196.00,362.56 L196.90,367.41 L197.80,370.16 L198.70,371.14 L199.60,372.76 L200.50,375.96 L201.40,379.60 L202.30,381.22 L203.20,381.87 L204.10,384.05 L205.00,386.61 L205.90,388.43 L206.80,389.46 L207.70,390.39 L208.60,391.66 L209.50,392.00 L210.40,392.22 L211.30,393.74 L212.20,395.75 L213.10,397.73 L214.00,398.44 L214.90,398.25 L215.80,399.01 L216.70,399.50 L217.60,398.92 L218.50,399.27 L219.40,401.03 L220.30,402.20 L221.20,401.70 L222.10,401.47 L223.00,402.70 L223.90,403.33 L224.80,403.30 L225.70,403.47 L226.60,403.92 L227.50,405.03 L228.40,405.62 L229.30,405.91 L230.20,406.56 L231.10,406.47 L232.00,406.16 L232.90,406.75 L233.80,406.85 L234.70,406.53 L235.60,407.39 L236.50,408.30 L237.40,408.79 L238.30,409.98 L239.20,410.28 L240.10,409.43 L241.00,409.84 L241.90,410.34 L242.80,409.17 L243.70,408.24 L244.60,408.09 L245.50,407.67 L246.40,407.90 L247.30,408.73 L248.20,409.05 L249.10,409.37 L250.00,409.35 L250.90,408.82 L251.80,408.77 L252.70,408.78 L253.60,408.46 L254.50,408.60 L255.40,409.15 L256.30,409.38 L257.20,409.76 L258.10,410.35 L259.00,409.90 L259.90,408.63 L260.80,408.31 L261.70,408.90 L262.60,409.30" fill="none" stroke="#333333" stroke-width="1.3" stroke-linejoin="round" stroke-linecap="round" clip-path="url(#cc)"/>
<path d="M78.00,395.90 L78.50,395.91 L79.00,395.93 L79.50,395.94 L80.00,395.96 L80.50,395.97 L81.00,395.98 L81.50,395.99 L82.00,395.99 L82.50,396.00 L83.00,396.00 L83.50,396.00 L84.00,396.00 L84.50,396.00 L85.00,396.00 L85.50,396.00 L86.00,396.00 L86.50,396.00 L87.00,396.00 L87.50,396.00 L88.00,396.00 L88.50,396.00 L89.00,396.00 L89.50,396.00 L90.00,396.00 L90.50,396.01 L91.00,396.01 L91.50,396.02 L92.00,396.02 L92.50,396.03 L93.00,396.04 L93.50,396.04 L94.00,396.05 L94.50,396.06 L95.00,396.07 L95.50,396.08 L96.00,396.09 L96.50,396.10 L97.00,396.12 L97.50,396.14 L98.00,396.18 L98.50,396.23 L99.00,396.28 L99.50,396.35 L100.00,396.41 L100.50,396.49 L101.00,396.56 L101.50,396.65 L102.00,396.73 L102.50,396.81 L103.00,396.90 L103.50,396.99 L104.00,397.07 L104.50,397.15 L105.00,397.23 L105.50,397.31 L106.00,397.40 L106.50,397.49 L107.00,397.59 L107.50,397.68 L108.00,397.78 L108.50,397.88 L109.00,397.98 L109.50,398.09 L110.00,398.19 L110.50,398.29 L111.00,398.39 L111.50,398.49 L112.00,398.59 L112.50,398.69 L113.00,398.78 L113.50,398.87 L114.00,398.96 L114.50,399.05 L115.00,399.14 L115.50,399.23 L116.00,399.32 L116.50,399.41 L117.00,399.50 L117.50,399.58 L118.00,399.67 L118.50,399.75 L119.00,399.84 L119.50,399.92 L120.00,400.00 L120.50,400.08 L121.00,400.16 L121.50,400.25 L122.00,400.33 L122.50,400.41 L123.00,400.50 L123.50,400.58 L124.00,400.66 L124.50,400.74 L125.00,400.82 L125.50,400.90 L126.00,400.98 L126.50,401.05 L127.00,401.12 L127.50,401.19 L128.00,401.26 L128.50,401.33 L129.00,401.39 L129.50,401.45 L130.00,401.50 L130.50,401.55 L131.00,401.60 L131.50,401.65 L132.00,401.70 L132.50,401.75 L133.00,401.80 L133.50,401.84 L134.00,401.89 L134.50,401.93 L135.00,401.98 L135.50,402.02 L136.00,402.06 L136.50,402.09 L137.00,402.13 L137.50,402.16 L138.00,402.19 L138.50,402.22 L139.00,402.25 L139.50,402.28 L140.00,402.30 L140.50,402.32 L141.00,402.34 L141.50,402.37 L142.00,402.39 L142.50,402.41 L143.00,402.43 L143.50,402.45 L144.00,402.47 L144.50,402.49 L145.00,402.50 L145.50,402.52 L146.00,402.54 L146.50,402.55 L147.00,402.56 L147.50,402.57 L148.00,402.58 L148.50,402.59 L149.00,402.60 L149.50,402.60 L150.00,402.60 L150.50,402.60 L151.00,402.59 L151.50,402.58 L152.00,402.57 L152.50,402.56 L153.00,402.54 L153.50,402.52 L154.00,402.51 L154.50,402.49 L155.00,402.47 L155.50,402.45 L156.00,402.44 L156.50,402.42 L157.00,402.41 L157.50,402.41 L158.00,402.40 L158.50,402.40 L159.00,402.40 L159.50,402.41 L160.00,402.42 L160.50,402.44 L161.00,402.46 L161.50,402.48 L162.00,402.51 L162.50,402.53 L163.00,402.56 L163.50,402.59 L164.00,402.63 L164.50,402.66 L165.00,402.69 L165.50,402.73 L166.00,402.76 L166.50,402.80 L167.00,402.84 L167.50,402.88 L168.00,402.93 L168.50,402.98 L169.00,403.04 L169.50,403.10 L170.00,403.17 L170.50,403.24 L171.00,403.31 L171.50,403.38 L172.00,403.46 L172.50,403.53 L173.00,403.61 L173.50,403.69 L174.00,403.77 L174.50,403.85 L175.00,403.93 L175.50,404.02 L176.00,404.11 L176.50,404.20 L177.00,404.30 L177.50,404.40 L178.00,404.51 L178.50,404.62 L179.00,404.72 L179.50,404.83 L180.00,404.94 L180.50,405.05 L181.00,405.16 L181.50,405.27 L182.00,405.38 L182.50,405.48 L183.00,405.58 L183.50,405.68 L184.00,405.78 L184.50,405.89 L185.00,405.99 L185.50,406.09 L186.00,406.20 L186.50,406.30 L187.00,406.40 L187.50,406.50 L188.00,406.59 L188.50,406.68 L189.00,406.76 L189.50,406.83 L190.00,406.90 L190.50,406.96 L191.00,407.02 L191.50,407.08 L192.00,407.13 L192.50,407.19 L193.00,407.24 L193.50,407.29 L194.00,407.33 L194.50,407.38 L195.00,407.42 L195.50,407.47 L196.00,407.51 L196.50,407.55 L197.00,407.59 L197.50,407.63 L198.00,407.66 L198.50,407.70 L199.00,407.73 L199.50,407.77 L200.00,407.80 L200.50,407.83 L201.00,407.86 L201.50,407.89 L202.00,407.93 L202.50,407.95 L203.00,407.98 L203.50,408.01 L204.00,408.04 L204.50,408.07 L205.00,408.09 L205.50,408.12 L206.00,408.14 L206.50,408.17 L207.00,408.19 L207.50,408.21 L208.00,408.23 L208.50,408.25 L209.00,408.27 L209.50,408.29 L210.00,408.31 L210.50,408.32 L211.00,408.34 L211.50,408.36 L212.00,408.37 L212.50,408.39 L213.00,408.40 L213.50,408.42 L214.00,408.43 L214.50,408.45 L215.00,408.46 L215.50,408.48 L216.00,408.49 L216.50,408.50 L217.00,408.52 L217.50,408.53 L218.00,408.54 L218.50,408.56 L219.00,408.57 L219.50,408.58 L220.00,408.59 L220.50,408.60 L221.00,408.62 L221.50,408.63 L222.00,408.64 L222.50,408.65 L223.00,408.66 L223.50,408.67 L224.00,408.68 L224.50,408.69 L225.00,408.70 L225.50,408.71 L226.00,408.72 L226.50,408.73 L227.00,408.74 L227.50,408.75 L228.00,408.76 L228.50,408.77 L229.00,408.78 L229.50,408.79 L230.00,408.80 L230.50,408.81 L231.00,408.82 L231.50,408.83 L232.00,408.84 L232.50,408.85 L233.00,408.86 L233.50,408.87 L234.00,408.87 L234.50,408.88 L235.00,408.89 L235.50,408.90 L236.00,408.91 L236.50,408.92 L237.00,408.93 L237.50,408.94 L238.00,408.95 L238.50,408.96 L239.00,408.96 L239.50,408.97 L240.00,408.98 L240.50,408.99 L241.00,409.00 L241.50,409.01 L242.00,409.02 L242.50,409.02 L243.00,409.03 L243.50,409.04 L244.00,409.05 L244.50,409.06 L245.00,409.07 L245.50,409.07 L246.00,409.08 L246.50,409.09 L247.00,409.10 L247.50,409.10 L248.00,409.11 L248.50,409.12 L249.00,409.13 L249.50,409.13 L250.00,409.14 L250.50,409.15 L251.00,409.16 L251.50,409.16 L252.00,409.17 L252.50,409.18 L253.00,409.18 L253.50,409.19 L254.00,409.20 L254.50,409.20 L255.00,409.21 L255.50,409.21 L256.00,409.22 L256.50,409.23 L257.00,409.23 L257.50,409.24 L258.00,409.24 L258.50,409.25 L259.00,409.26 L259.50,409.26 L260.00,409.27 L260.50,409.27 L261.00,409.28 L261.50,409.28 L262.00,409.29 L262.50,409.29 L263.00,409.30 L263.50,409.30" fill="none" stroke="#d9a21b" stroke-width="1.3" stroke-linejoin="round" stroke-linecap="round" clip-path="url(#cc)"/>
<path d="M84.00,396.00 L84.50,395.81 L85.00,395.61 L85.50,395.39 L86.00,395.17 L86.50,394.94 L87.00,394.70 L87.50,394.45 L88.00,394.20 L88.50,393.95 L89.00,393.70 L89.50,393.43 L90.00,393.14 L90.50,392.82 L91.00,392.47 L91.50,392.08 L92.00,391.63 L92.50,391.09 L93.00,390.46 L93.50,389.76 L94.00,389.00 L94.50,388.18 L95.00,387.32 L95.50,386.40 L96.00,385.38 L96.50,384.23 L97.00,382.90 L97.50,381.37 L98.00,379.33 L98.50,376.86 L99.00,374.20 L99.50,371.21 L100.00,368.01 L100.50,365.13 L101.00,362.49 L101.50,359.57 L102.00,356.03 L102.50,352.69 L103.00,349.76 L103.50,347.10 L104.00,344.76 L104.50,342.65 L105.00,340.43 L105.50,337.92 L106.00,335.52 L106.50,333.50 L107.00,331.65 L107.50,330.03 L108.00,328.68 L108.50,327.46 L109.00,326.54 L109.50,326.03 L110.00,325.64 L110.50,325.42 L111.00,325.47 L111.50,325.85 L112.00,326.42 L112.50,327.09 L113.00,328.05 L113.50,329.29 L114.00,330.70 L114.50,332.40 L115.00,334.47 L115.50,336.73 L116.00,339.00 L116.50,341.10 L117.00,343.06 L117.50,344.97 L118.00,346.90 L118.50,348.90 L119.00,350.99 L119.50,353.14 L120.00,355.34 L120.50,357.56 L121.00,359.82 L121.50,362.18 L122.00,364.55 L122.50,366.87 L123.00,369.07 L123.50,371.09 L124.00,372.99 L124.50,374.81 L125.00,376.57 L125.50,378.31 L126.00,380.05 L126.50,381.82 L127.00,383.56 L127.50,385.22 L128.00,386.74 L128.50,388.10 L129.00,389.40 L129.50,390.62 L130.00,391.76 L130.50,392.80 L131.00,393.73 L131.50,394.57 L132.00,395.37 L132.50,396.13 L133.00,396.83 L133.50,397.48 L134.00,398.05 L134.50,398.55 L135.00,398.95 L135.50,399.31 L136.00,399.62 L136.50,399.89 L137.00,400.10 L137.50,400.28 L138.00,400.43 L138.50,400.56 L139.00,400.69 L139.50,400.80 L140.00,400.90 L140.50,401.00 L141.00,401.09 L141.50,401.17 L142.00,401.25 L142.50,401.33 L143.00,401.40 L143.50,401.47 L144.00,401.55 L144.50,401.62 L145.00,401.70 L145.50,401.78 L146.00,401.86 L146.50,401.94 L147.00,402.02 L147.50,402.10 L148.00,402.18 L148.50,402.26 L149.00,402.34 L149.50,402.42 L150.00,402.50" fill="none" stroke="#b071ea" stroke-width="1.4" stroke-linejoin="round" stroke-linecap="round" clip-path="url(#cc)"/>
<path d="M150.00,402.60 L150.50,402.60 L151.00,402.59 L151.50,402.58 L152.00,402.56 L152.50,402.54 L153.00,402.52 L153.50,402.49 L154.00,402.43 L154.50,402.34 L155.00,402.22 L155.50,402.08 L156.00,401.92 L156.50,401.74 L157.00,401.56 L157.50,401.36 L158.00,401.13 L158.50,400.85 L159.00,400.53 L159.50,400.17 L160.00,399.78 L160.50,399.35 L161.00,398.89 L161.50,398.40 L162.00,397.88 L162.50,397.31 L163.00,396.66 L163.50,395.93 L164.00,395.09 L164.50,394.15 L165.00,393.06 L165.50,391.55 L166.00,389.66 L166.50,387.61 L167.00,385.51 L167.50,383.21 L168.00,380.72 L168.50,377.97 L169.00,374.93 L169.50,371.82 L170.00,368.77 L170.50,365.71 L171.00,362.53 L171.50,359.12 L172.00,355.46 L172.50,351.67 L173.00,347.76 L173.50,343.72 L174.00,339.71 L174.50,335.88 L175.00,331.92 L175.50,327.24 L176.00,321.99 L176.50,317.88 L177.00,314.47 L177.50,311.55 L178.00,309.05 L178.50,306.84 L179.00,304.76 L179.50,302.78 L180.00,301.07 L180.50,299.73 L181.00,298.57 L181.50,297.63 L182.00,296.95 L182.50,296.33 L183.00,295.85 L183.50,295.61 L184.00,295.83 L184.50,296.60 L185.00,297.60 L185.50,298.95 L186.00,300.79 L186.50,302.81 L187.00,305.09 L187.50,307.64 L188.00,310.35 L188.50,313.10 L189.00,315.95 L189.50,318.93 L190.00,321.93 L190.50,324.82 L191.00,327.67 L191.50,330.59 L192.00,333.54 L192.50,336.56 L193.00,339.81 L193.50,343.45 L194.00,347.48 L194.50,351.75 L195.00,356.37 L195.50,360.87 L196.00,365.22 L196.50,369.26 L197.00,372.78 L197.50,375.95 L198.00,378.87 L198.50,381.64 L199.00,384.21 L199.50,386.50 L200.00,388.55 L200.50,390.44 L201.00,392.17 L201.50,393.71 L202.00,395.10 L202.50,396.39 L203.00,397.59 L203.50,398.70 L204.00,399.70 L204.50,400.60 L205.00,401.43 L205.50,402.22 L206.00,402.97 L206.50,403.66 L207.00,404.29 L207.50,404.85 L208.00,405.33 L208.50,405.74 L209.00,406.13 L209.50,406.50 L210.00,406.83 L210.50,407.14 L211.00,407.41 L211.50,407.63 L212.00,407.82 L212.50,407.95 L213.00,408.06 L213.50,408.17 L214.00,408.26 L214.50,408.33 L215.00,408.40 L215.50,408.46 L216.00,408.50 L216.50,408.54 L217.00,408.57 L217.50,408.61 L218.00,408.64 L218.50,408.66 L219.00,408.68 L219.50,408.70 L220.00,408.70" fill="none" stroke="#b071ea" stroke-width="1.4" stroke-linejoin="round" stroke-linecap="round" clip-path="url(#cc)"/>
<path d="M29.30,387.50 L29.80,387.60 L30.30,387.70 L30.80,387.80 L31.30,387.90 L31.80,388.00 L32.30,388.09 L32.80,388.19 L33.30,388.29 L33.80,388.38 L34.30,388.48 L34.80,388.57 L35.30,388.66 L35.80,388.75 L36.30,388.85 L36.80,388.94 L37.30,389.03 L37.80,389.12 L38.30,389.20 L38.80,389.29 L39.30,389.38 L39.80,389.47 L40.30,389.55 L40.80,389.63 L41.30,389.72 L41.80,389.80 L42.30,389.87 L42.80,389.95 L43.30,390.03 L43.80,390.11 L44.30,390.18 L44.80,390.26 L45.30,390.33 L45.80,390.41 L46.30,390.48 L46.80,390.56 L47.30,390.63 L47.80,390.71 L48.30,390.79 L48.80,390.87 L49.30,390.95 L49.80,391.03 L50.30,391.11 L50.80,391.20 L51.30,391.29 L51.80,391.38 L52.30,391.47 L52.80,391.57 L53.30,391.67 L53.80,391.77 L54.30,391.87 L54.80,391.97 L55.30,392.07 L55.80,392.18 L56.30,392.28 L56.80,392.39 L57.30,392.49 L57.80,392.60 L58.30,392.71 L58.80,392.81 L59.30,392.92 L59.80,393.02 L60.30,393.12 L60.80,393.22 L61.30,393.32 L61.80,393.42 L62.30,393.52 L62.80,393.61 L63.30,393.71 L63.80,393.80 L64.30,393.88 L64.80,393.97 L65.30,394.05 L65.80,394.13 L66.30,394.21 L66.80,394.29 L67.30,394.37 L67.80,394.45 L68.30,394.52 L68.80,394.60 L69.30,394.68 L69.80,394.75 L70.30,394.82 L70.80,394.89 L71.30,394.96 L71.80,395.03 L72.30,395.09 L72.80,395.16 L73.30,395.22 L73.80,395.27 L74.30,395.33 L74.80,395.38 L75.30,395.43 L75.80,395.48 L76.30,395.54 L76.80,395.59 L77.30,395.64 L77.80,395.69 L78.30,395.73 L78.80,395.76 L79.30,395.79 L79.80,395.80 L80.30,395.80 L80.80,395.78 L81.30,395.74 L81.80,395.69 L82.30,395.63 L82.80,395.57 L83.30,395.50 L83.80,395.42 L84.30,395.32 L84.80,395.19 L85.30,395.05 L85.80,394.89 L86.30,394.71 L86.80,394.53 L87.30,394.34 L87.80,394.14 L88.30,393.91 L88.80,393.67 L89.30,393.40 L89.80,393.11 L90.30,392.78 L90.80,392.43 L91.30,392.05 L91.80,391.62 L92.30,391.12 L92.80,390.52 L93.30,389.85 L93.80,389.11 L94.30,388.32 L94.80,387.47 L95.30,386.58 L95.80,385.61 L96.30,384.51 L96.80,383.25 L97.30,381.81 L97.80,380.01 L98.30,377.69 L98.80,375.07 L99.30,372.27 L99.80,369.08 L100.30,366.03 L100.80,363.35 L101.30,360.60 L101.80,357.28 L102.30,353.74 L102.80,350.70 L103.30,347.93 L103.80,345.45 L104.30,343.29 L104.80,341.15 L105.30,338.74 L105.80,336.23 L106.30,334.10 L106.80,332.21 L107.30,330.53 L107.80,329.10 L108.30,327.92 L108.80,327.00 L109.30,326.21 L109.80,325.80 L110.30,325.95 L110.80,326.32 L111.30,326.96 L111.80,328.06 L112.30,329.36 L112.80,330.98 L113.30,332.82 L113.80,334.86 L114.30,337.34 L114.80,339.80 L115.30,341.95 L115.80,344.00 L116.30,346.00 L116.80,348.01 L117.30,349.99 L117.80,351.95 L118.30,353.87 L118.80,355.82 L119.30,357.74 L119.80,359.52 L120.30,361.11 L120.80,362.51 L121.30,363.81 L121.80,365.06 L122.30,366.34 L122.80,367.67 L123.30,369.02 L123.80,370.36 L124.30,371.68 L124.80,372.95 L125.30,374.17 L125.80,375.37 L126.30,376.54 L126.80,377.68 L127.30,378.77 L127.80,379.80 L128.30,380.79 L128.80,381.74 L129.30,382.67 L129.80,383.56 L130.30,384.43 L130.80,385.27 L131.30,386.08 L131.80,386.87 L132.30,387.63 L132.80,388.37 L133.30,389.09 L133.80,389.80 L134.30,390.48 L134.80,391.15 L135.30,391.81 L135.80,392.46 L136.30,393.10 L136.80,393.73 L137.30,394.35 L137.80,394.96 L138.30,395.55 L138.80,396.12 L139.30,396.67 L139.80,397.20 L140.30,397.73 L140.80,398.25 L141.30,398.76 L141.80,399.22 L142.30,399.61 L142.80,399.91 L143.30,400.18 L143.80,400.43 L144.30,400.65 L144.80,400.85 L145.30,401.01 L145.80,401.15 L146.30,401.27 L146.80,401.38 L147.30,401.48 L147.80,401.58 L148.30,401.66 L148.80,401.73 L149.30,401.77 L149.80,401.80 L150.30,401.80 L150.80,401.80 L151.30,401.80 L151.80,401.80 L152.30,401.80 L152.80,401.80 L153.30,401.80 L153.80,401.78 L154.30,401.74 L154.80,401.66 L155.30,401.57 L155.80,401.45 L156.30,401.32 L156.80,401.18 L157.30,401.03 L157.80,400.86 L158.30,400.63 L158.80,400.36 L159.30,400.04 L159.80,399.67 L160.30,399.27 L160.80,398.84 L161.30,398.39 L161.80,397.90 L162.30,397.36 L162.80,396.75 L163.30,396.05 L163.80,395.25 L164.30,394.34 L164.80,393.32 L165.30,392.02 L165.80,390.25 L166.30,388.23 L166.80,386.17 L167.30,383.95 L167.80,381.54 L168.30,378.92 L168.80,375.97 L169.30,372.86 L169.80,369.78 L170.30,366.74 L170.80,363.63 L171.30,360.32 L171.80,356.75 L172.30,352.99 L172.80,349.15 L173.30,345.14 L173.80,341.10 L174.30,337.24 L174.80,333.44 L175.30,329.00 L175.80,323.09 L176.30,318.39 L176.80,314.96 L177.30,312.00 L177.80,309.32 L178.30,306.91 L178.80,304.64 L179.30,302.46 L179.80,300.70 L180.30,299.37 L180.80,298.32 L181.30,297.55 L181.80,296.93 L182.30,296.82 L182.80,297.07 L183.30,297.50 L183.80,298.58 L184.30,300.33 L184.80,302.41 L185.30,304.96 L185.80,307.50 L186.30,310.06 L186.80,312.60 L187.30,314.96 L187.80,317.28 L188.30,320.22 L188.80,324.02 L189.30,327.17 L189.80,330.00 L190.30,332.70 L190.80,335.28 L191.30,337.80 L191.80,340.20 L192.30,342.47 L192.80,344.87 L193.30,347.75 L193.80,351.39 L194.30,354.80 L194.80,357.50 L195.30,359.91 L195.80,362.19 L196.30,364.51 L196.80,366.88 L197.30,368.99 L197.80,370.56 L198.30,371.75 L198.80,372.76 L199.30,373.72 L199.80,374.77 L200.30,376.00 L200.80,377.35 L201.30,378.75 L201.80,380.11 L202.30,381.37 L202.80,382.50 L203.30,383.59 L203.80,384.64 L204.30,385.64 L204.80,386.59 L205.30,387.50 L205.80,388.37 L206.30,389.19 L206.80,389.98 L207.30,390.73 L207.80,391.45 L208.30,392.15 L208.80,392.83 L209.30,393.50 L209.80,394.17 L210.30,394.83 L210.80,395.47 L211.30,396.09 L211.80,396.69 L212.30,397.26 L212.80,397.80 L213.30,398.30 L213.80,398.77 L214.30,399.22 L214.80,399.65 L215.30,400.07 L215.80,400.47 L216.30,400.86 L216.80,401.24 L217.30,401.61 L217.80,401.98 L218.30,402.35 L218.80,402.71 L219.30,403.08 L219.80,403.45 L220.30,403.80 L220.80,404.15 L221.30,404.48 L221.80,404.79 L222.30,405.08 L222.80,405.35 L223.30,405.59 L223.80,405.83 L224.30,406.06 L224.80,406.28 L225.30,406.50 L225.80,406.71 L226.30,406.91 L226.80,407.10 L227.30,407.28 L227.80,407.45 L228.30,407.60 L228.80,407.74 L229.30,407.86 L229.80,407.96 L230.30,408.05 L230.80,408.14 L231.30,408.22 L231.80,408.29 L232.30,408.37 L232.80,408.44 L233.30,408.50 L233.80,408.57 L234.30,408.63 L234.80,408.69 L235.30,408.74 L235.80,408.79 L236.30,408.84 L236.80,408.89 L237.30,408.93 L237.80,408.97 L238.30,409.00 L238.80,409.03 L239.30,409.06 L239.80,409.09 L240.30,409.11 L240.80,409.14 L241.30,409.16 L241.80,409.18 L242.30,409.20 L242.80,409.22 L243.30,409.24 L243.80,409.25 L244.30,409.27 L244.80,409.29 L245.30,409.30 L245.80,409.32 L246.30,409.33 L246.80,409.34 L247.30,409.35 L247.80,409.36 L248.30,409.37 L248.80,409.38 L249.30,409.39 L249.80,409.40 L250.30,409.40 L250.80,409.41 L251.30,409.42 L251.80,409.42 L252.30,409.43 L252.80,409.43 L253.30,409.44 L253.80,409.44 L254.30,409.45 L254.80,409.45 L255.30,409.46 L255.80,409.46 L256.30,409.47 L256.80,409.47 L257.30,409.47 L257.80,409.48 L258.30,409.48 L258.80,409.49 L259.30,409.49 L259.80,409.49 L260.30,409.49 L260.80,409.49 L261.30,409.50 L261.80,409.50 L262.30,409.50 L262.80,409.50 L263.30,409.50" fill="none" stroke="#1ec3cb" stroke-width="1.7" stroke-linejoin="round" stroke-linecap="round" clip-path="url(#cc)"/>
<rect x="29.30" y="249.90" width="234.20" height="188.10" fill="none" stroke="#000" stroke-width="1.8"/>
<line x1="29.30" y1="438.00" x2="29.30" y2="441.70" stroke="#000" stroke-width="1.5"/>
<line x1="55.80" y1="438.00" x2="55.80" y2="439.80" stroke="#000" stroke-width="1.5"/>
<line x1="82.30" y1="438.00" x2="82.30" y2="441.70" stroke="#000" stroke-width="1.5"/>
<line x1="108.80" y1="438.00" x2="108.80" y2="439.80" stroke="#000" stroke-width="1.5"/>
<line x1="135.30" y1="438.00" x2="135.30" y2="441.70" stroke="#000" stroke-width="1.5"/>
<line x1="161.80" y1="438.00" x2="161.80" y2="439.80" stroke="#000" stroke-width="1.5"/>
<line x1="188.30" y1="438.00" x2="188.30" y2="441.70" stroke="#000" stroke-width="1.5"/>
<line x1="214.80" y1="438.00" x2="214.80" y2="439.80" stroke="#000" stroke-width="1.5"/>
<line x1="241.30" y1="438.00" x2="241.30" y2="441.70" stroke="#000" stroke-width="1.5"/>
<text x="16.28" y="456.90" font-size="15.4" font-family="Liberation Sans, sans-serif" textLength="26.47" lengthAdjust="spacingAndGlyphs" fill="#000" >420</text>
<text x="69.17" y="456.90" font-size="15.4" font-family="Liberation Sans, sans-serif" textLength="26.47" lengthAdjust="spacingAndGlyphs" fill="#000" >415</text>
<text x="122.28" y="456.90" font-size="15.4" font-family="Liberation Sans, sans-serif" textLength="26.47" lengthAdjust="spacingAndGlyphs" fill="#000" >410</text>
<text x="175.17" y="456.90" font-size="15.4" font-family="Liberation Sans, sans-serif" textLength="26.47" lengthAdjust="spacingAndGlyphs" fill="#000" >405</text>
<text x="228.28" y="456.90" font-size="15.4" font-family="Liberation Sans, sans-serif" textLength="26.47" lengthAdjust="spacingAndGlyphs" fill="#000" >400</text>
<text x="77.33" y="474.10" font-size="15.5" font-family="Liberation Sans, sans-serif" textLength="151.28" lengthAdjust="spacingAndGlyphs" fill="#000" >Binding energy (eV)</text>
<text x="0" y="0" transform="translate(18.00,402.46) rotate(-90)" font-size="15.5" font-family="Liberation Sans, sans-serif" textLength="107.16" lengthAdjust="spacingAndGlyphs">Intensity (a.u.)</text>
<text x="6.28" y="247.00" font-size="15" font-family="Liberation Sans, sans-serif" textLength="20.15" lengthAdjust="spacingAndGlyphs" fill="#000" >(c)</text>
<text x="32.54" y="267.30" font-size="16" font-family="Liberation Sans, sans-serif" textLength="44.93" lengthAdjust="spacingAndGlyphs" fill="#000" >Cd 3d</text>
<text x="92.78" y="304.60" font-size="11.5" font-family="Liberation Sans, sans-serif" textLength="35.05" lengthAdjust="spacingAndGlyphs" fill="#000" stroke="#000" stroke-width="0.2">Cd 3d</text>
<text x="127.27" y="307.80" font-size="11.5" font-family="Liberation Sans, sans-serif" textLength="20.01" lengthAdjust="spacingAndGlyphs" fill="#000" stroke="#000" stroke-width="0.2">3/2</text>
<text x="93.12" y="321.20" font-size="11.7" font-family="Liberation Sans, sans-serif" textLength="47.97" lengthAdjust="spacingAndGlyphs" fill="#000" stroke="#000" stroke-width="0.2">412.2 eV</text>
<text x="164.89" y="274.10" font-size="11.5" font-family="Liberation Sans, sans-serif" textLength="34.84" lengthAdjust="spacingAndGlyphs" fill="#000" stroke="#000" stroke-width="0.2">Cd 3d</text>
<text x="199.05" y="277.30" font-size="11.5" font-family="Liberation Sans, sans-serif" textLength="20.13" lengthAdjust="spacingAndGlyphs" fill="#000" stroke="#000" stroke-width="0.2">5/2</text>
<text x="165.62" y="291.90" font-size="11.7" font-family="Liberation Sans, sans-serif" textLength="49.28" lengthAdjust="spacingAndGlyphs" fill="#000" stroke="#000" stroke-width="0.2">405.5 eV</text>
<clipPath id="cd"><rect x="299.5" y="250.9" width="234.0" height="187.99999999999997"/></clipPath>
<path d="M300.50,407.65 L301.40,408.16 L302.30,408.25 L303.20,408.09 L304.10,408.63 L305.00,409.12 L305.90,409.27 L306.80,409.52 L307.70,409.42 L308.60,408.39 L309.50,409.41 L310.40,410.35 L311.30,409.65 L312.20,409.91 L313.10,409.64 L314.00,409.12 L314.90,409.60 L315.80,409.78 L316.70,409.64 L317.60,409.68 L318.50,409.90 L319.40,410.32 L320.30,410.10 L321.20,409.22 L322.10,408.56 L323.00,409.32 L323.90,409.60 L324.80,410.55 L325.70,411.50 L326.60,411.44 L327.50,410.72 L328.40,410.35 L329.30,410.60 L330.20,411.39 L331.10,411.91 L332.00,411.86 L332.90,411.92 L333.80,412.27 L334.70,411.89 L335.60,409.26 L336.50,408.90 L337.40,411.07 L338.30,411.81 L339.20,411.71 L340.10,411.46 L341.00,410.79 L341.90,410.46 L342.80,411.19 L343.70,412.19 L344.60,412.17 L345.50,411.60 L346.40,411.49 L347.30,411.47 L348.20,411.30 L349.10,411.53 L350.00,412.75 L350.90,411.74 L351.80,411.39 L352.70,411.19 L353.60,411.16 L354.50,411.46 L355.40,411.51 L356.30,411.40 L357.20,411.47 L358.10,411.45 L359.00,411.31 L359.90,411.88 L360.80,412.13 L361.70,411.89 L362.60,412.59 L363.50,412.80 L364.40,411.40 L365.30,409.77 L366.20,409.37 L367.10,410.46 L368.00,411.42 L368.90,411.17 L369.80,410.52 L370.70,409.79 L371.60,409.48 L372.50,409.50 L373.40,409.24 L374.30,409.81 L375.20,410.36 L376.10,409.56 L377.00,408.38 L377.90,407.55 L378.80,407.12 L379.70,405.85 L380.60,403.30 L381.50,401.05 L382.40,399.79 L383.30,398.89 L384.20,397.49 L385.10,395.74 L386.00,394.05 L386.90,392.47 L387.80,390.46 L388.70,387.65 L389.60,385.61 L390.50,384.66 L391.40,383.20 L392.30,381.36 L393.20,379.20 L394.10,376.42 L395.00,374.34 L395.90,373.23 L396.80,371.44 L397.70,368.62 L398.60,365.46 L399.50,362.31 L400.40,359.37 L401.30,356.66 L402.20,353.75 L403.10,350.81 L404.00,348.56 L404.90,345.77 L405.80,342.24 L406.70,340.14 L407.60,337.95 L408.50,335.03 L409.40,333.16 L410.30,331.35 L411.20,329.18 L412.10,327.29 L413.00,326.43 L413.90,327.13 L414.80,327.52 L415.70,325.92 L416.60,322.96 L417.50,322.62 L418.40,322.48 L419.30,322.41 L420.20,323.21 L421.10,324.21 L422.00,324.42 L422.90,324.89 L423.80,327.17 L424.70,331.24 L425.60,334.99 L426.50,339.08 L427.40,343.34 L428.30,346.03 L429.20,347.89 L430.10,350.79 L431.00,353.38 L431.90,355.27 L432.80,358.38 L433.70,361.09 L434.60,362.48 L435.50,364.81 L436.40,367.72 L437.30,369.40 L438.20,371.09 L439.10,373.37 L440.00,374.64 L440.90,375.58 L441.80,377.06 L442.70,379.27 L443.60,381.96 L444.50,384.56 L445.40,386.98 L446.30,389.19 L447.20,390.89 L448.10,392.41 L449.00,393.68 L449.90,394.17 L450.80,394.75 L451.70,395.56 L452.60,395.80 L453.50,396.85 L454.40,398.07 L455.30,399.03 L456.20,400.43 L457.10,400.64 L458.00,400.72 L458.90,401.84 L459.80,403.05 L460.70,404.15 L461.60,405.22 L462.50,406.05 L463.40,406.30 L464.30,406.27 L465.20,406.52 L466.10,407.00 L467.00,406.66 L467.90,406.83 L468.80,407.94 L469.70,407.85 L470.60,407.64 L471.50,408.71 L472.40,409.61 L473.30,409.71 L474.20,410.50 L475.10,412.07 L476.00,412.74 L476.90,412.20 L477.80,411.61 L478.70,411.66 L479.60,411.53 L480.50,409.97 L481.40,410.65 L482.30,410.96 L483.20,410.80 L484.10,410.81 L485.00,411.31 L485.90,412.23 L486.80,412.27 L487.70,411.25 L488.60,411.89 L489.50,412.59 L490.40,413.58 L491.30,413.87 L492.20,413.13 L493.10,413.18 L494.00,413.52 L494.90,413.70 L495.80,413.33 L496.70,413.08 L497.60,412.71 L498.50,412.96 L499.40,413.94 L500.30,414.64 L501.20,414.90 L502.10,414.14 L503.00,413.48 L503.90,413.88 L504.80,414.36 L505.70,414.55 L506.60,414.74 L507.50,415.09 L508.40,414.95 L509.30,414.54 L510.20,414.03 L511.10,413.66 L512.00,412.86 L512.90,412.75 L513.80,414.08 L514.70,414.59 L515.60,415.02 L516.50,414.92 L517.40,414.96 L518.30,415.37 L519.20,415.47 L520.10,415.06 L521.00,414.70 L521.90,414.43 L522.80,414.61 L523.70,414.96 L524.60,412.43 L525.50,412.37 L526.40,415.07 L527.30,415.66 L528.20,415.47 L529.10,415.65 L530.00,415.36 L530.90,414.81 L531.80,415.04 L532.70,415.22" fill="none" stroke="#333333" stroke-width="1.3" stroke-linejoin="round" stroke-linecap="round" clip-path="url(#cd)"/>
<path d="M400.00,413.90 L400.50,413.93 L401.00,413.96 L401.50,413.98 L402.00,414.00 L402.50,414.03 L403.00,414.05 L403.50,414.06 L404.00,414.08 L404.50,414.10 L405.00,414.11 L405.50,414.12 L406.00,414.14 L406.50,414.15 L407.00,414.15 L407.50,414.16 L408.00,414.17 L408.50,414.18 L409.00,414.18 L409.50,414.19 L410.00,414.19 L410.50,414.19 L411.00,414.19 L411.50,414.20 L412.00,414.20 L412.50,414.20 L413.00,414.20 L413.50,414.20 L414.00,414.20 L414.50,414.20 L415.00,414.20 L415.50,414.20 L416.00,414.19 L416.50,414.18 L417.00,414.17 L417.50,414.15 L418.00,414.12 L418.50,414.10 L419.00,414.07 L419.50,414.04 L420.00,414.01 L420.50,413.97 L421.00,413.94 L421.50,413.90 L422.00,413.86 L422.50,413.82 L423.00,413.77 L423.50,413.73 L424.00,413.69 L424.50,413.64 L425.00,413.60 L425.50,413.55 L426.00,413.50 L426.50,413.44 L427.00,413.38 L427.50,413.31 L428.00,413.23 L428.50,413.16 L429.00,413.08 L429.50,413.00 L430.00,412.92 L430.50,412.84 L431.00,412.76 L431.50,412.68 L432.00,412.60 L432.50,412.52 L433.00,412.44 L433.50,412.37 L434.00,412.28 L434.50,412.20 L435.00,412.12 L435.50,412.04 L436.00,411.95 L436.50,411.87 L437.00,411.79 L437.50,411.70 L438.00,411.62 L438.50,411.54 L439.00,411.46 L439.50,411.38 L440.00,411.30 L440.50,411.22 L441.00,411.14 L441.50,411.06 L442.00,410.98 L442.50,410.90 L443.00,410.82 L443.50,410.74 L444.00,410.66 L444.50,410.58 L445.00,410.51 L445.50,410.44 L446.00,410.37 L446.50,410.30 L447.00,410.24 L447.50,410.18 L448.00,410.12 L448.50,410.06 L449.00,410.01 L449.50,409.95 L450.00,409.90 L450.50,409.85 L451.00,409.80 L451.50,409.75 L452.00,409.70 L452.50,409.66 L453.00,409.62 L453.50,409.57 L454.00,409.54 L454.50,409.50 L455.00,409.46 L455.50,409.43 L456.00,409.39 L456.50,409.35 L457.00,409.32 L457.50,409.28 L458.00,409.25 L458.50,409.21 L459.00,409.18 L459.50,409.16 L460.00,409.14 L460.50,409.12 L461.00,409.11 L461.50,409.10 L462.00,409.10 L462.50,409.11 L463.00,409.12 L463.50,409.15 L464.00,409.18 L464.50,409.21 L465.00,409.25 L465.50,409.29 L466.00,409.34 L466.50,409.39 L467.00,409.44 L467.50,409.49 L468.00,409.55 L468.50,409.61 L469.00,409.70 L469.50,409.79 L470.00,409.88 L470.50,409.99 L471.00,410.10 L471.50,410.22 L472.00,410.33 L472.50,410.45 L473.00,410.57 L473.50,410.70 L474.00,410.84 L474.50,410.99 L475.00,411.14 L475.50,411.30 L476.00,411.46 L476.50,411.61 L477.00,411.77 L477.50,411.91 L478.00,412.06 L478.50,412.20 L479.00,412.34 L479.50,412.48 L480.00,412.62 L480.50,412.76 L481.00,412.89 L481.50,413.03 L482.00,413.16 L482.50,413.30 L483.00,413.43 L483.50,413.56 L484.00,413.68 L484.50,413.80 L485.00,413.92 L485.50,414.04 L486.00,414.16 L486.50,414.27 L487.00,414.39 L487.50,414.50 L488.00,414.61 L488.50,414.71 L489.00,414.81 L489.50,414.91 L490.00,415.00 L490.50,415.09 L491.00,415.18 L491.50,415.27 L492.00,415.36 L492.50,415.45 L493.00,415.53 L493.50,415.60 L494.00,415.67 L494.50,415.73 L495.00,415.78 L495.50,415.81 L496.00,415.85 L496.50,415.88 L497.00,415.91 L497.50,415.94 L498.00,415.97 L498.50,416.00 L499.00,416.03 L499.50,416.05 L500.00,416.08 L500.50,416.10 L501.00,416.12 L501.50,416.14 L502.00,416.15 L502.50,416.17 L503.00,416.18 L503.50,416.19 L504.00,416.19 L504.50,416.20 L505.00,416.20" fill="none" stroke="#1c6fe3" stroke-width="1.3" stroke-linejoin="round" stroke-linecap="round" clip-path="url(#cd)"/>
<path d="M352.00,413.00 L352.50,413.01 L353.00,413.01 L353.50,413.02 L354.00,413.03 L354.50,413.03 L355.00,413.04 L355.50,413.05 L356.00,413.05 L356.50,413.06 L357.00,413.06 L357.50,413.07 L358.00,413.08 L358.50,413.08 L359.00,413.09 L359.50,413.09 L360.00,413.10 L360.50,413.11 L361.00,413.11 L361.50,413.12 L362.00,413.12 L362.50,413.13 L363.00,413.13 L363.50,413.13 L364.00,413.14 L364.50,413.14 L365.00,413.15 L365.50,413.15 L366.00,413.16 L366.50,413.16 L367.00,413.17 L367.50,413.17 L368.00,413.18 L368.50,413.18 L369.00,413.19 L369.50,413.19 L370.00,413.20 L370.50,413.21 L371.00,413.22 L371.50,413.22 L372.00,413.23 L372.50,413.24 L373.00,413.25 L373.50,413.27 L374.00,413.28 L374.50,413.29 L375.00,413.30 L375.50,413.31 L376.00,413.32 L376.50,413.33 L377.00,413.34 L377.50,413.36 L378.00,413.37 L378.50,413.38 L379.00,413.38 L379.50,413.39 L380.00,413.40 L380.50,413.41 L381.00,413.41 L381.50,413.42 L382.00,413.43 L382.50,413.43 L383.00,413.44 L383.50,413.44 L384.00,413.45 L384.50,413.45 L385.00,413.46 L385.50,413.46 L386.00,413.47 L386.50,413.47 L387.00,413.47 L387.50,413.48 L388.00,413.48 L388.50,413.49 L389.00,413.49 L389.50,413.49 L390.00,413.50 L390.50,413.50 L391.00,413.51 L391.50,413.51 L392.00,413.51 L392.50,413.52 L393.00,413.52 L393.50,413.53 L394.00,413.53 L394.50,413.54 L395.00,413.54 L395.50,413.54 L396.00,413.55 L396.50,413.56 L397.00,413.56 L397.50,413.57 L398.00,413.57 L398.50,413.58 L399.00,413.59 L399.50,413.59 L400.00,413.60 L400.50,413.61 L401.00,413.62 L401.50,413.62 L402.00,413.63 L402.50,413.64 L403.00,413.65 L403.50,413.67 L404.00,413.68 L404.50,413.69 L405.00,413.70 L405.50,413.71 L406.00,413.73 L406.50,413.74 L407.00,413.75 L407.50,413.77 L408.00,413.78 L408.50,413.80 L409.00,413.81 L409.50,413.83 L410.00,413.84 L410.50,413.86 L411.00,413.87 L411.50,413.89 L412.00,413.90 L412.50,413.92 L413.00,413.94 L413.50,413.95 L414.00,413.97 L414.50,413.98 L415.00,414.00 L415.50,414.02 L416.00,414.03 L416.50,414.05 L417.00,414.07 L417.50,414.08 L418.00,414.10 L418.50,414.12 L419.00,414.14 L419.50,414.15 L420.00,414.17 L420.50,414.19 L421.00,414.21 L421.50,414.23 L422.00,414.25 L422.50,414.27 L423.00,414.29 L423.50,414.31 L424.00,414.33 L424.50,414.35 L425.00,414.37 L425.50,414.39 L426.00,414.42 L426.50,414.44 L427.00,414.46 L427.50,414.48 L428.00,414.51 L428.50,414.53 L429.00,414.55 L429.50,414.58 L430.00,414.60 L430.50,414.63 L431.00,414.65 L431.50,414.68 L432.00,414.71 L432.50,414.75 L433.00,414.78 L433.50,414.82 L434.00,414.85 L434.50,414.89 L435.00,414.92 L435.50,414.96 L436.00,414.99 L436.50,415.02" fill="none" stroke="#2aa552" stroke-width="1.3" stroke-linejoin="round" stroke-linecap="round" clip-path="url(#cd)"/>
<path d="M436.50,415.02 L437.00,415.05 L437.50,415.08 L438.00,415.11 L438.50,415.14 L439.00,415.16 L439.50,415.18 L440.00,415.20 L440.50,415.22 L441.00,415.23 L441.50,415.25 L442.00,415.26 L442.50,415.27 L443.00,415.29 L443.50,415.30 L444.00,415.31 L444.50,415.32 L445.00,415.33 L445.50,415.34 L446.00,415.35 L446.50,415.36 L447.00,415.37 L447.50,415.38 L448.00,415.39 L448.50,415.40 L449.00,415.41 L449.50,415.42 L450.00,415.43 L450.50,415.44 L451.00,415.45 L451.50,415.45 L452.00,415.46 L452.50,415.47 L453.00,415.48 L453.50,415.49 L454.00,415.49 L454.50,415.50 L455.00,415.51 L455.50,415.52 L456.00,415.53 L456.50,415.54 L457.00,415.54 L457.50,415.55 L458.00,415.56 L458.50,415.57 L459.00,415.58 L459.50,415.59 L460.00,415.60 L460.50,415.61 L461.00,415.62 L461.50,415.63 L462.00,415.64 L462.50,415.65 L463.00,415.66 L463.50,415.67 L464.00,415.69 L464.50,415.70 L465.00,415.71 L465.50,415.72 L466.00,415.73 L466.50,415.74 L467.00,415.75 L467.50,415.76 L468.00,415.78 L468.50,415.79 L469.00,415.80 L469.50,415.81 L470.00,415.82 L470.50,415.83 L471.00,415.84 L471.50,415.85 L472.00,415.86 L472.50,415.87 L473.00,415.88 L473.50,415.89 L474.00,415.90 L474.50,415.91 L475.00,415.92 L475.50,415.93 L476.00,415.94 L476.50,415.95 L477.00,415.96 L477.50,415.97 L478.00,415.97 L478.50,415.98 L479.00,415.99 L479.50,415.99 L480.00,416.00 L480.50,416.01 L481.00,416.01 L481.50,416.02 L482.00,416.02 L482.50,416.03 L483.00,416.03 L483.50,416.04 L484.00,416.05 L484.50,416.05 L485.00,416.06 L485.50,416.06 L486.00,416.07 L486.50,416.08 L487.00,416.08 L487.50,416.09 L488.00,416.09 L488.50,416.10 L489.00,416.10 L489.50,416.11 L490.00,416.11 L490.50,416.12 L491.00,416.13 L491.50,416.13 L492.00,416.14 L492.50,416.14 L493.00,416.15 L493.50,416.15 L494.00,416.16 L494.50,416.16 L495.00,416.17 L495.50,416.17 L496.00,416.18 L496.50,416.18 L497.00,416.19 L497.50,416.19 L498.00,416.20 L498.50,416.20 L499.00,416.21 L499.50,416.21 L500.00,416.22 L500.50,416.22 L501.00,416.23 L501.50,416.23 L502.00,416.24 L502.50,416.24 L503.00,416.25 L503.50,416.25 L504.00,416.25 L504.50,416.26 L505.00,416.26 L505.50,416.27 L506.00,416.27 L506.50,416.28 L507.00,416.28 L507.50,416.28 L508.00,416.29 L508.50,416.29 L509.00,416.30 L509.50,416.30 L510.00,416.30 L510.50,416.31 L511.00,416.31 L511.50,416.32 L512.00,416.32 L512.50,416.32 L513.00,416.33 L513.50,416.33 L514.00,416.33 L514.50,416.34 L515.00,416.34 L515.50,416.34 L516.00,416.35 L516.50,416.35 L517.00,416.35 L517.50,416.35 L518.00,416.36 L518.50,416.36 L519.00,416.36 L519.50,416.36 L520.00,416.37 L520.50,416.37 L521.00,416.37 L521.50,416.37 L522.00,416.38 L522.50,416.38 L523.00,416.38 L523.50,416.38 L524.00,416.38 L524.50,416.38 L525.00,416.39 L525.50,416.39 L526.00,416.39 L526.50,416.39 L527.00,416.39 L527.50,416.39 L528.00,416.39 L528.50,416.40 L529.00,416.40 L529.50,416.40 L530.00,416.40 L530.50,416.40 L531.00,416.40 L531.50,416.40 L532.00,416.40 L532.50,416.40 L533.00,416.40" fill="none" stroke="#2aa552" stroke-width="1.3" stroke-linejoin="round" stroke-linecap="round" clip-path="url(#cd)"/>
<path d="M352.00,412.90 L352.50,412.86 L353.00,412.82 L353.50,412.78 L354.00,412.74 L354.50,412.69 L355.00,412.65 L355.50,412.61 L356.00,412.56 L356.50,412.52 L357.00,412.48 L357.50,412.43 L358.00,412.38 L358.50,412.34 L359.00,412.29 L359.50,412.25 L360.00,412.20 L360.50,412.15 L361.00,412.11 L361.50,412.07 L362.00,412.02 L362.50,411.98 L363.00,411.93 L363.50,411.88 L364.00,411.83 L364.50,411.77 L365.00,411.70 L365.50,411.62 L366.00,411.53 L366.50,411.43 L367.00,411.32 L367.50,411.20 L368.00,411.07 L368.50,410.93 L369.00,410.78 L369.50,410.63 L370.00,410.47 L370.50,410.29 L371.00,410.09 L371.50,409.87 L372.00,409.63 L372.50,409.38 L373.00,409.12 L373.50,408.84 L374.00,408.55 L374.50,408.25 L375.00,407.94 L375.50,407.61 L376.00,407.26 L376.50,406.89 L377.00,406.50 L377.50,406.09 L378.00,405.65 L378.50,405.19 L379.00,404.70 L379.50,404.17 L380.00,403.59 L380.50,402.97 L381.00,402.31 L381.50,401.63 L382.00,400.93 L382.50,400.21 L383.00,399.48 L383.50,398.71 L384.00,397.92 L384.50,397.10 L385.00,396.25 L385.50,395.38 L386.00,394.46 L386.50,393.47 L387.00,392.45 L387.50,391.42 L388.00,390.40 L388.50,389.41 L389.00,388.42 L389.50,387.44 L390.00,386.47 L390.50,385.49 L391.00,384.54 L391.50,383.64 L392.00,382.73 L392.50,381.78 L393.00,380.75 L393.50,379.56 L394.00,378.17 L394.50,376.73 L395.00,375.37 L395.50,374.09 L396.00,372.85 L396.50,371.59 L397.00,370.29 L397.50,368.92 L398.00,367.44 L398.50,365.88 L399.00,364.30 L399.50,362.72 L400.00,361.20 L400.50,359.71 L401.00,358.23 L401.50,356.75 L402.00,355.23 L402.50,353.66 L403.00,352.00 L403.50,350.31 L404.00,348.62 L404.50,347.01 L405.00,345.49 L405.50,344.02 L406.00,342.58 L406.50,341.19 L407.00,339.83 L407.50,338.51 L408.00,337.20 L408.50,335.93 L409.00,334.72 L409.50,333.58 L410.00,332.47 L410.50,331.40 L411.00,330.41 L411.50,329.52 L412.00,328.75 L412.50,328.03 L413.00,327.38 L413.50,326.85 L414.00,326.45 L414.50,326.08 L415.00,325.76 L415.50,325.52 L416.00,325.40 L416.50,325.42 L417.00,325.52 L417.50,325.66 L418.00,325.85 L418.50,326.07 L419.00,326.30 L419.50,326.64 L420.00,327.07 L420.50,327.60 L421.00,328.18 L421.50,328.81 L422.00,329.48 L422.50,330.27 L423.00,331.18 L423.50,332.18 L424.00,333.23 L424.50,334.42 L425.00,335.70 L425.50,337.02 L426.00,338.32 L426.50,339.62 L427.00,340.94 L427.50,342.27 L428.00,343.61 L428.50,344.95 L429.00,346.30 L429.50,347.65 L430.00,348.99 L430.50,350.34 L431.00,351.71 L431.50,353.09 L432.00,354.51 L432.50,355.96 L433.00,357.41 L433.50,358.90 L434.00,360.43 L434.50,362.01 L435.00,363.68 L435.50,365.49 L436.00,367.39 L436.50,369.31 L437.00,371.18 L437.50,372.94 L438.00,374.64 L438.50,376.32 L439.00,377.97 L439.50,379.55 L440.00,381.06 L440.50,382.47 L441.00,383.77 L441.50,384.98 L442.00,386.13 L442.50,387.22 L443.00,388.28 L443.50,389.33 L444.00,390.38 L444.50,391.44 L445.00,392.49 L445.50,393.53 L446.00,394.56 L446.50,395.57 L447.00,396.55 L447.50,397.50 L448.00,398.44 L448.50,399.37 L449.00,400.29 L449.50,401.18 L450.00,402.03 L450.50,402.82 L451.00,403.54 L451.50,404.21 L452.00,404.84 L452.50,405.44 L453.00,406.01 L453.50,406.56 L454.00,407.09 L454.50,407.60 L455.00,408.10 L455.50,408.59 L456.00,409.06 L456.50,409.52 L457.00,409.95 L457.50,410.37 L458.00,410.75 L458.50,411.12 L459.00,411.47 L459.50,411.80 L460.00,412.12 L460.50,412.42 L461.00,412.70 L461.50,412.96 L462.00,413.19 L462.50,413.42 L463.00,413.64 L463.50,413.85 L464.00,414.05 L464.50,414.24 L465.00,414.42 L465.50,414.57 L466.00,414.71 L466.50,414.83 L467.00,414.92 L467.50,414.99 L468.00,415.06 L468.50,415.13 L469.00,415.19 L469.50,415.24 L470.00,415.29 L470.50,415.34 L471.00,415.38 L471.50,415.42 L472.00,415.46 L472.50,415.49 L473.00,415.52 L473.50,415.55 L474.00,415.58 L474.50,415.60 L475.00,415.63 L475.50,415.66 L476.00,415.68 L476.50,415.71 L477.00,415.73 L477.50,415.75 L478.00,415.76 L478.50,415.78 L479.00,415.79 L479.50,415.80 L480.00,415.80" fill="none" stroke="#f03333" stroke-width="1.4" stroke-linejoin="round" stroke-linecap="round" clip-path="url(#cd)"/>
<path d="M300.00,408.80 L300.50,408.88 L301.00,408.96 L301.50,409.04 L302.00,409.11 L302.50,409.19 L303.00,409.27 L303.50,409.34 L304.00,409.41 L304.50,409.49 L305.00,409.56 L305.50,409.63 L306.00,409.71 L306.50,409.78 L307.00,409.85 L307.50,409.92 L308.00,409.98 L308.50,410.05 L309.00,410.12 L309.50,410.18 L310.00,410.25 L310.50,410.31 L311.00,410.38 L311.50,410.44 L312.00,410.50 L312.50,410.56 L313.00,410.62 L313.50,410.68 L314.00,410.73 L314.50,410.79 L315.00,410.84 L315.50,410.90 L316.00,410.95 L316.50,411.00 L317.00,411.05 L317.50,411.10 L318.00,411.14 L318.50,411.19 L319.00,411.24 L319.50,411.28 L320.00,411.33 L320.50,411.37 L321.00,411.42 L321.50,411.47 L322.00,411.51 L322.50,411.56 L323.00,411.61 L323.50,411.65 L324.00,411.70 L324.50,411.74 L325.00,411.79 L325.50,411.83 L326.00,411.88 L326.50,411.92 L327.00,411.96 L327.50,412.00 L328.00,412.04 L328.50,412.08 L329.00,412.12 L329.50,412.15 L330.00,412.19 L330.50,412.22 L331.00,412.25 L331.50,412.29 L332.00,412.31 L332.50,412.34 L333.00,412.37 L333.50,412.39 L334.00,412.41 L334.50,412.43 L335.00,412.45 L335.50,412.47 L336.00,412.48 L336.50,412.49 L337.00,412.50 L337.50,412.50 L338.00,412.51 L338.50,412.52 L339.00,412.52 L339.50,412.53 L340.00,412.53 L340.50,412.54 L341.00,412.54 L341.50,412.55 L342.00,412.55 L342.50,412.56 L343.00,412.56 L343.50,412.56 L344.00,412.57 L344.50,412.57 L345.00,412.57 L345.50,412.58 L346.00,412.58 L346.50,412.58 L347.00,412.59 L347.50,412.59 L348.00,412.59 L348.50,412.59 L349.00,412.60 L349.50,412.60 L350.00,412.60 L350.50,412.60 L351.00,412.60 L351.50,412.60 L352.00,412.60 L352.50,412.59 L353.00,412.58 L353.50,412.56 L354.00,412.53 L354.50,412.49 L355.00,412.44 L355.50,412.40 L356.00,412.34 L356.50,412.29 L357.00,412.23 L357.50,412.17 L358.00,412.11 L358.50,412.06 L359.00,412.00 L359.50,411.95 L360.00,411.90 L360.50,411.85 L361.00,411.81 L361.50,411.77 L362.00,411.72 L362.50,411.68 L363.00,411.63 L363.50,411.58 L364.00,411.53 L364.50,411.47 L365.00,411.40 L365.50,411.32 L366.00,411.23 L366.50,411.13 L367.00,411.02 L367.50,410.90 L368.00,410.77 L368.50,410.63 L369.00,410.48 L369.50,410.33 L370.00,410.17 L370.50,409.99 L371.00,409.79 L371.50,409.57 L372.00,409.33 L372.50,409.08 L373.00,408.82 L373.50,408.54 L374.00,408.25 L374.50,407.95 L375.00,407.64 L375.50,407.31 L376.00,406.96 L376.50,406.59 L377.00,406.20 L377.50,405.79 L378.00,405.35 L378.50,404.89 L379.00,404.40 L379.50,403.87 L380.00,403.29 L380.50,402.67 L381.00,402.01 L381.50,401.33 L382.00,400.63 L382.50,399.91 L383.00,399.18 L383.50,398.41 L384.00,397.62 L384.50,396.80 L385.00,395.95 L385.50,395.08 L386.00,394.16 L386.50,393.17 L387.00,392.15 L387.50,391.12 L388.00,390.10 L388.50,389.11 L389.00,388.12 L389.50,387.14 L390.00,386.17 L390.50,385.19 L391.00,384.24 L391.50,383.34 L392.00,382.43 L392.50,381.48 L393.00,380.45 L393.50,379.26 L394.00,377.87 L394.50,376.43 L395.00,375.07 L395.50,373.79 L396.00,372.55 L396.50,371.29 L397.00,369.99 L397.50,368.62 L398.00,367.14 L398.50,365.58 L399.00,364.00 L399.50,362.42 L400.00,360.90 L400.50,359.41 L401.00,357.93 L401.50,356.45 L402.00,354.93 L402.50,353.36 L403.00,351.70 L403.50,350.01 L404.00,348.32 L404.50,346.71 L405.00,345.19 L405.50,343.72 L406.00,342.28 L406.50,340.89 L407.00,339.53 L407.50,338.21 L408.00,336.90 L408.50,335.63 L409.00,334.42 L409.50,333.28 L410.00,332.17 L410.50,331.10 L411.00,330.11 L411.50,329.22 L412.00,328.45 L412.50,327.73 L413.00,327.08 L413.50,326.55 L414.00,326.15 L414.50,325.79 L415.00,325.47 L415.50,325.26 L416.00,325.20 L416.50,325.28 L417.00,325.43 L417.50,325.65 L418.00,325.90 L418.50,326.18 L419.00,326.57 L419.50,327.07 L420.00,327.64 L420.50,328.26 L421.00,328.90 L421.50,329.59 L422.00,330.37 L422.50,331.24 L423.00,332.20 L423.50,333.34 L424.00,334.66 L424.50,336.05 L425.00,337.40 L425.50,338.69 L426.00,339.99 L426.50,341.28 L427.00,342.57 L427.50,343.86 L428.00,345.14 L428.50,346.41 L429.00,347.66 L429.50,348.89 L430.00,350.12 L430.50,351.37 L431.00,352.63 L431.50,353.93 L432.00,355.28 L432.50,356.66 L433.00,358.07 L433.50,359.50 L434.00,360.95 L434.50,362.40 L435.00,363.92 L435.50,365.50 L436.00,367.07 L436.50,368.54 L437.00,369.84 L437.50,370.93 L438.00,371.95 L438.50,373.06 L439.00,374.25 L439.50,375.48 L440.00,376.72 L440.50,377.93 L441.00,379.09 L441.50,380.24 L442.00,381.38 L442.50,382.49 L443.00,383.57 L443.50,384.60 L444.00,385.58 L444.50,386.52 L445.00,387.42 L445.50,388.31 L446.00,389.17 L446.50,390.04 L447.00,390.90 L447.50,391.78 L448.00,392.69 L448.50,393.62 L449.00,394.56 L449.50,395.48 L450.00,396.36 L450.50,397.19 L451.00,397.93 L451.50,398.59 L452.00,399.20 L452.50,399.79 L453.00,400.33 L453.50,400.85 L454.00,401.33 L454.50,401.78 L455.00,402.20 L455.50,402.59 L456.00,402.96 L456.50,403.30 L457.00,403.62 L457.50,403.94 L458.00,404.24 L458.50,404.53 L459.00,404.82 L459.50,405.12 L460.00,405.41 L460.50,405.71 L461.00,406.00 L461.50,406.29 L462.00,406.56 L462.50,406.83 L463.00,407.07 L463.50,407.30 L464.00,407.50 L464.50,407.69 L465.00,407.86 L465.50,408.03 L466.00,408.19 L466.50,408.34 L467.00,408.48 L467.50,408.61 L468.00,408.74 L468.50,408.86 L469.00,408.98 L469.50,409.09 L470.00,409.19 L470.50,409.28 L471.00,409.37 L471.50,409.46 L472.00,409.55 L472.50,409.63 L473.00,409.71 L473.50,409.80 L474.00,409.89 L474.50,409.97 L475.00,410.06 L475.50,410.14 L476.00,410.22 L476.50,410.30 L477.00,410.39 L477.50,410.47 L478.00,410.55 L478.50,410.64 L479.00,410.72 L479.50,410.81 L480.00,410.90 L480.50,410.99 L481.00,411.09 L481.50,411.19 L482.00,411.30 L482.50,411.41 L483.00,411.51 L483.50,411.63 L484.00,411.74 L484.50,411.85 L485.00,411.97 L485.50,412.08 L486.00,412.19 L486.50,412.30 L487.00,412.41 L487.50,412.52 L488.00,412.63 L488.50,412.73 L489.00,412.83 L489.50,412.93 L490.00,413.02 L490.50,413.10 L491.00,413.18 L491.50,413.26 L492.00,413.33 L492.50,413.39 L493.00,413.46 L493.50,413.52 L494.00,413.59 L494.50,413.65 L495.00,413.71 L495.50,413.77 L496.00,413.82 L496.50,413.88 L497.00,413.94 L497.50,413.99 L498.00,414.05 L498.50,414.10 L499.00,414.15 L499.50,414.20 L500.00,414.25 L500.50,414.30 L501.00,414.35 L501.50,414.39 L502.00,414.44 L502.50,414.48 L503.00,414.53 L503.50,414.57 L504.00,414.61 L504.50,414.65 L505.00,414.69 L505.50,414.73 L506.00,414.77 L506.50,414.81 L507.00,414.85 L507.50,414.89 L508.00,414.92 L508.50,414.96 L509.00,414.99 L509.50,415.03 L510.00,415.06 L510.50,415.09 L511.00,415.13 L511.50,415.16 L512.00,415.19 L512.50,415.22 L513.00,415.25 L513.50,415.28 L514.00,415.31 L514.50,415.34 L515.00,415.37 L515.50,415.39 L516.00,415.42 L516.50,415.44 L517.00,415.47 L517.50,415.49 L518.00,415.52 L518.50,415.54 L519.00,415.56 L519.50,415.58 L520.00,415.60 L520.50,415.62 L521.00,415.64 L521.50,415.66 L522.00,415.68 L522.50,415.70 L523.00,415.71 L523.50,415.73 L524.00,415.75 L524.50,415.77 L525.00,415.78 L525.50,415.80 L526.00,415.82 L526.50,415.83 L527.00,415.85 L527.50,415.86 L528.00,415.88 L528.50,415.89 L529.00,415.91 L529.50,415.92 L530.00,415.93 L530.50,415.94 L531.00,415.95 L531.50,415.96 L532.00,415.98 L532.50,415.98 L533.00,415.99" fill="none" stroke="#aa6ade" stroke-width="1.5" stroke-linejoin="round" stroke-linecap="round" clip-path="url(#cd)"/>
<rect x="299.50" y="250.90" width="234.00" height="188.00" fill="none" stroke="#000" stroke-width="1.8"/>
<line x1="299.60" y1="438.90" x2="299.60" y2="442.60" stroke="#000" stroke-width="1.5"/>
<line x1="338.58" y1="438.90" x2="338.58" y2="440.70" stroke="#000" stroke-width="1.5"/>
<line x1="377.55" y1="438.90" x2="377.55" y2="442.60" stroke="#000" stroke-width="1.5"/>
<line x1="416.53" y1="438.90" x2="416.53" y2="440.70" stroke="#000" stroke-width="1.5"/>
<line x1="455.50" y1="438.90" x2="455.50" y2="442.60" stroke="#000" stroke-width="1.5"/>
<line x1="494.48" y1="438.90" x2="494.48" y2="440.70" stroke="#000" stroke-width="1.5"/>
<line x1="533.45" y1="438.90" x2="533.45" y2="442.60" stroke="#000" stroke-width="1.5"/>
<text x="286.20" y="457.70" font-size="15.4" font-family="Liberation Sans, sans-serif" textLength="26.47" lengthAdjust="spacingAndGlyphs" fill="#000" >170</text>
<text x="364.04" y="457.70" font-size="15.4" font-family="Liberation Sans, sans-serif" textLength="26.47" lengthAdjust="spacingAndGlyphs" fill="#000" >165</text>
<text x="442.10" y="457.70" font-size="15.4" font-family="Liberation Sans, sans-serif" textLength="26.47" lengthAdjust="spacingAndGlyphs" fill="#000" >160</text>
<text x="519.94" y="457.70" font-size="15.4" font-family="Liberation Sans, sans-serif" textLength="26.47" lengthAdjust="spacingAndGlyphs" fill="#000" >155</text>
<text x="347.63" y="475.10" font-size="15.5" font-family="Liberation Sans, sans-serif" textLength="150.98" lengthAdjust="spacingAndGlyphs" fill="#000" >Binding energy (eV)</text>
<text x="0" y="0" transform="translate(287.80,403.47) rotate(-90)" font-size="15.5" font-family="Liberation Sans, sans-serif" textLength="107.77" lengthAdjust="spacingAndGlyphs">Intensity (a.u.)</text>
<text x="277.22" y="247.50" font-size="15" font-family="Liberation Sans, sans-serif" textLength="19.85" lengthAdjust="spacingAndGlyphs" fill="#000" >(d)</text>
<text x="302.74" y="267.70" font-size="16" font-family="Liberation Sans, sans-serif" textLength="33.40" lengthAdjust="spacingAndGlyphs" fill="#000" >S 2p</text>
<text x="399.54" y="289.80" font-size="11.6" font-family="Liberation Sans, sans-serif" textLength="26.27" lengthAdjust="spacingAndGlyphs" fill="#000" stroke="#000" stroke-width="0.2">S 2p</text>
<text x="424.96" y="292.30" font-size="11.8" font-family="Liberation Sans, sans-serif" textLength="20.85" lengthAdjust="spacingAndGlyphs" fill="#000" stroke="#000" stroke-width="0.2">1/2</text>
<text x="397.63" y="306.00" font-size="12" font-family="Liberation Sans, sans-serif" textLength="48.86" lengthAdjust="spacingAndGlyphs" fill="#000" stroke="#000" stroke-width="0.2">162.8 eV</text>
<text x="466.43" y="378.30" font-size="11.5" font-family="Liberation Sans, sans-serif" textLength="26.79" lengthAdjust="spacingAndGlyphs" fill="#000" stroke="#000" stroke-width="0.2">S 2p</text>
<text x="492.99" y="381.30" font-size="11.8" font-family="Liberation Sans, sans-serif" textLength="18.86" lengthAdjust="spacingAndGlyphs" fill="#000" stroke="#000" stroke-width="0.2">3/2</text>
<text x="465.23" y="394.00" font-size="11.2" font-family="Liberation Sans, sans-serif" textLength="48.86" lengthAdjust="spacingAndGlyphs" fill="#000" stroke="#000" stroke-width="0.2">161.3 eV</text>
<line x1="416.30" y1="324.30" x2="416.30" y2="313.00" stroke="#000" stroke-width="1.5"/>
<path d="M416.3,307.2 L418.5,314.6 L414.1,314.6 Z" fill="#000"/>
<line x1="464.70" y1="408.40" x2="470.30" y2="401.80" stroke="#000" stroke-width="1.5"/>
<path d="M475.6,396.4 L472.2,404.0 L467.9,401.0 Z" fill="#000"/>
</svg>
</body></html>
